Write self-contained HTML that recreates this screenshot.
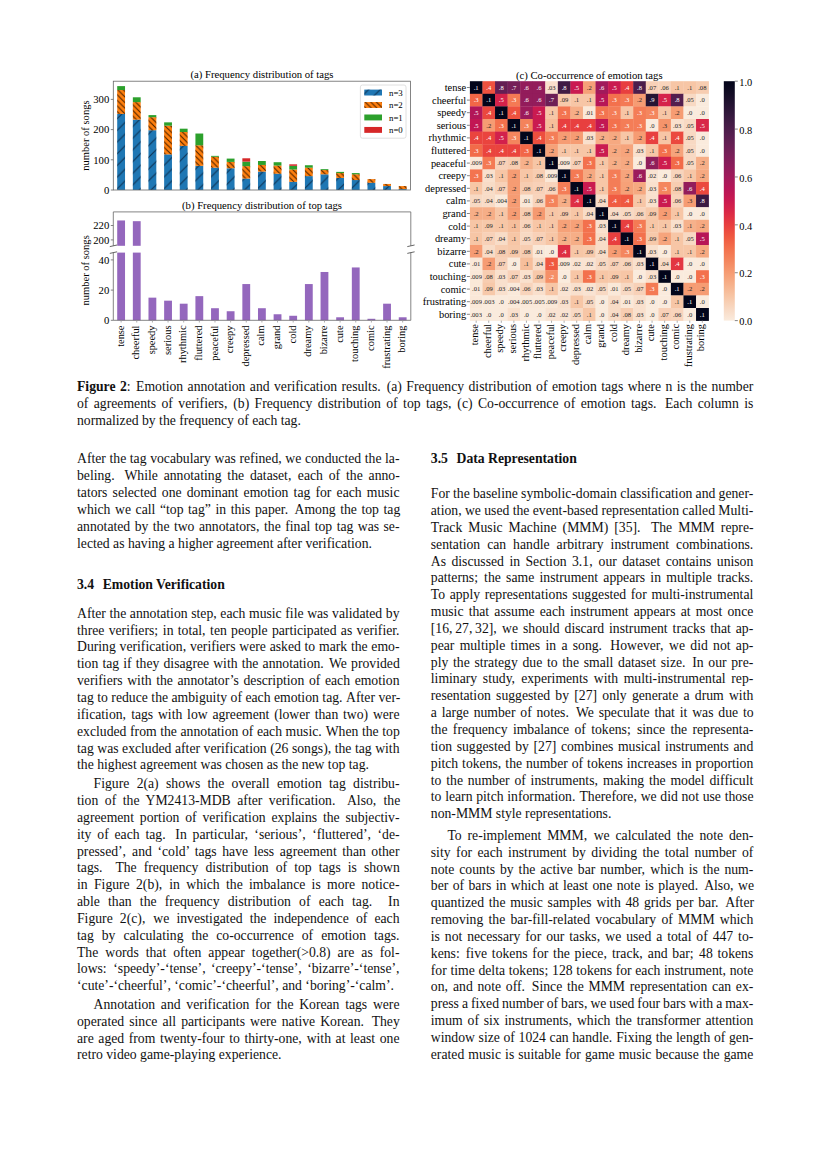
<!DOCTYPE html>
<html><head><meta charset="utf-8"><style>
html,body{margin:0;padding:0;background:#fff;}
body{width:827px;height:1169px;position:relative;overflow:hidden;font-family:"Liberation Serif",serif;color:#111;}
.l{position:absolute;white-space:nowrap;line-height:1;}
.j{text-align:justify;text-align-last:justify;white-space:normal;}
svg{position:absolute;left:0;top:0;}
svg text{font-family:"Liberation Serif",serif;}
</style></head><body>
<svg width="827" height="1169" viewBox="0 0 827 1169">
<defs><pattern id="hb" patternUnits="userSpaceOnUse" width="11.7" height="11.7" patternTransform="translate(1.8 0)"><path d="M-2,13.7 L13.7,-2 M-7.85,7.85 L7.85,-7.85 M3.8499999999999996,19.549999999999997 L19.549999999999997,3.8499999999999996" stroke="#0e3558" stroke-width="1.2"/></pattern><pattern id="ho" patternUnits="userSpaceOnUse" width="5.6" height="5.6"><path d="M-2,-2 L7.6,7.6 M-4.8,0.7999999999999998 L4.8,10.399999999999999 M0.7999999999999998,-4.8 L10.399999999999999,4.8" stroke="#4a2200" stroke-width="1.1"/></pattern></defs>
<rect x="117.21" y="113.90" width="7.82" height="76.10" fill="#1f77b4"/>
<rect x="117.21" y="113.90" width="7.82" height="76.10" fill="url(#hb)"/>
<rect x="117.21" y="90.04" width="7.82" height="23.86" fill="#ff7f0e"/>
<rect x="117.21" y="90.04" width="7.82" height="23.86" fill="url(#ho)"/>
<rect x="117.21" y="86.11" width="7.82" height="3.93" fill="#2ca02c"/>
<rect x="132.85" y="119.63" width="7.82" height="70.37" fill="#1f77b4"/>
<rect x="132.85" y="119.63" width="7.82" height="70.37" fill="url(#hb)"/>
<rect x="132.85" y="102.12" width="7.82" height="17.52" fill="#ff7f0e"/>
<rect x="132.85" y="102.12" width="7.82" height="17.52" fill="url(#ho)"/>
<rect x="132.85" y="97.29" width="7.82" height="4.83" fill="#2ca02c"/>
<rect x="148.49" y="130.20" width="7.82" height="59.80" fill="#1f77b4"/>
<rect x="148.49" y="130.20" width="7.82" height="59.80" fill="url(#hb)"/>
<rect x="148.49" y="117.22" width="7.82" height="12.99" fill="#ff7f0e"/>
<rect x="148.49" y="117.22" width="7.82" height="12.99" fill="url(#ho)"/>
<rect x="148.49" y="115.10" width="7.82" height="2.11" fill="#2ca02c"/>
<rect x="164.14" y="154.36" width="7.82" height="35.64" fill="#1f77b4"/>
<rect x="164.14" y="154.36" width="7.82" height="35.64" fill="url(#hb)"/>
<rect x="164.14" y="125.67" width="7.82" height="28.69" fill="#ff7f0e"/>
<rect x="164.14" y="125.67" width="7.82" height="28.69" fill="url(#ho)"/>
<rect x="164.14" y="122.35" width="7.82" height="3.32" fill="#2ca02c"/>
<rect x="179.78" y="145.91" width="7.82" height="44.09" fill="#1f77b4"/>
<rect x="179.78" y="145.91" width="7.82" height="44.09" fill="url(#hb)"/>
<rect x="179.78" y="132.02" width="7.82" height="13.89" fill="#ff7f0e"/>
<rect x="179.78" y="132.02" width="7.82" height="13.89" fill="url(#ho)"/>
<rect x="179.78" y="128.69" width="7.82" height="3.32" fill="#2ca02c"/>
<rect x="195.42" y="165.84" width="7.82" height="24.16" fill="#1f77b4"/>
<rect x="195.42" y="165.84" width="7.82" height="24.16" fill="url(#hb)"/>
<rect x="195.42" y="145.30" width="7.82" height="20.54" fill="#ff7f0e"/>
<rect x="195.42" y="145.30" width="7.82" height="20.54" fill="url(#ho)"/>
<rect x="195.42" y="133.53" width="7.82" height="11.78" fill="#2ca02c"/>
<rect x="211.06" y="167.65" width="7.82" height="22.35" fill="#1f77b4"/>
<rect x="211.06" y="167.65" width="7.82" height="22.35" fill="url(#hb)"/>
<rect x="211.06" y="156.78" width="7.82" height="10.87" fill="#ff7f0e"/>
<rect x="211.06" y="156.78" width="7.82" height="10.87" fill="url(#ho)"/>
<rect x="211.06" y="155.87" width="7.82" height="0.91" fill="#2ca02c"/>
<rect x="226.71" y="168.26" width="7.82" height="21.74" fill="#1f77b4"/>
<rect x="226.71" y="168.26" width="7.82" height="21.74" fill="url(#hb)"/>
<rect x="226.71" y="161.91" width="7.82" height="6.34" fill="#ff7f0e"/>
<rect x="226.71" y="161.91" width="7.82" height="6.34" fill="url(#ho)"/>
<rect x="226.71" y="158.59" width="7.82" height="3.32" fill="#2ca02c"/>
<rect x="242.35" y="178.52" width="7.82" height="11.48" fill="#1f77b4"/>
<rect x="242.35" y="178.52" width="7.82" height="11.48" fill="url(#hb)"/>
<rect x="242.35" y="166.14" width="7.82" height="12.38" fill="#ff7f0e"/>
<rect x="242.35" y="166.14" width="7.82" height="12.38" fill="url(#ho)"/>
<rect x="242.35" y="161.61" width="7.82" height="4.53" fill="#2ca02c"/>
<rect x="242.35" y="158.29" width="7.82" height="3.32" fill="#d62728"/>
<rect x="257.99" y="171.58" width="7.82" height="18.42" fill="#1f77b4"/>
<rect x="257.99" y="171.58" width="7.82" height="18.42" fill="url(#hb)"/>
<rect x="257.99" y="164.93" width="7.82" height="6.64" fill="#ff7f0e"/>
<rect x="257.99" y="164.93" width="7.82" height="6.64" fill="url(#ho)"/>
<rect x="257.99" y="161.01" width="7.82" height="3.93" fill="#2ca02c"/>
<rect x="273.63" y="173.69" width="7.82" height="16.31" fill="#1f77b4"/>
<rect x="273.63" y="173.69" width="7.82" height="16.31" fill="url(#hb)"/>
<rect x="273.63" y="165.54" width="7.82" height="8.15" fill="#ff7f0e"/>
<rect x="273.63" y="165.54" width="7.82" height="8.15" fill="url(#ho)"/>
<rect x="273.63" y="162.22" width="7.82" height="3.32" fill="#2ca02c"/>
<rect x="289.27" y="181.85" width="7.82" height="8.15" fill="#1f77b4"/>
<rect x="289.27" y="181.85" width="7.82" height="8.15" fill="url(#hb)"/>
<rect x="289.27" y="169.46" width="7.82" height="12.38" fill="#ff7f0e"/>
<rect x="289.27" y="169.46" width="7.82" height="12.38" fill="url(#ho)"/>
<rect x="289.27" y="165.84" width="7.82" height="3.62" fill="#2ca02c"/>
<rect x="289.27" y="164.33" width="7.82" height="1.51" fill="#d62728"/>
<rect x="304.92" y="176.11" width="7.82" height="13.89" fill="#1f77b4"/>
<rect x="304.92" y="176.11" width="7.82" height="13.89" fill="url(#hb)"/>
<rect x="304.92" y="167.65" width="7.82" height="8.46" fill="#ff7f0e"/>
<rect x="304.92" y="167.65" width="7.82" height="8.46" fill="url(#ho)"/>
<rect x="304.92" y="165.24" width="7.82" height="2.42" fill="#2ca02c"/>
<rect x="320.56" y="174.30" width="7.82" height="15.70" fill="#1f77b4"/>
<rect x="320.56" y="174.30" width="7.82" height="15.70" fill="url(#hb)"/>
<rect x="320.56" y="170.07" width="7.82" height="4.23" fill="#ff7f0e"/>
<rect x="320.56" y="170.07" width="7.82" height="4.23" fill="url(#ho)"/>
<rect x="320.56" y="169.16" width="7.82" height="0.91" fill="#2ca02c"/>
<rect x="336.20" y="177.92" width="7.82" height="12.08" fill="#1f77b4"/>
<rect x="336.20" y="177.92" width="7.82" height="12.08" fill="url(#hb)"/>
<rect x="336.20" y="173.09" width="7.82" height="4.83" fill="#ff7f0e"/>
<rect x="336.20" y="173.09" width="7.82" height="4.83" fill="url(#ho)"/>
<rect x="336.20" y="171.88" width="7.82" height="1.21" fill="#2ca02c"/>
<rect x="351.84" y="180.03" width="7.82" height="9.97" fill="#1f77b4"/>
<rect x="351.84" y="180.03" width="7.82" height="9.97" fill="url(#hb)"/>
<rect x="351.84" y="174.30" width="7.82" height="5.74" fill="#ff7f0e"/>
<rect x="351.84" y="174.30" width="7.82" height="5.74" fill="url(#ho)"/>
<rect x="351.84" y="173.09" width="7.82" height="1.21" fill="#2ca02c"/>
<rect x="367.48" y="182.75" width="7.82" height="7.25" fill="#1f77b4"/>
<rect x="367.48" y="182.75" width="7.82" height="7.25" fill="url(#hb)"/>
<rect x="367.48" y="179.13" width="7.82" height="3.62" fill="#ff7f0e"/>
<rect x="367.48" y="179.13" width="7.82" height="3.62" fill="url(#ho)"/>
<rect x="383.13" y="186.07" width="7.82" height="3.93" fill="#1f77b4"/>
<rect x="383.13" y="186.07" width="7.82" height="3.93" fill="url(#hb)"/>
<rect x="383.13" y="183.96" width="7.82" height="2.11" fill="#ff7f0e"/>
<rect x="383.13" y="183.96" width="7.82" height="2.11" fill="url(#ho)"/>
<rect x="398.77" y="189.09" width="7.82" height="0.91" fill="#1f77b4"/>
<rect x="398.77" y="189.09" width="7.82" height="0.91" fill="url(#hb)"/>
<rect x="398.77" y="186.07" width="7.82" height="3.02" fill="#ff7f0e"/>
<rect x="398.77" y="186.07" width="7.82" height="3.02" fill="url(#ho)"/>
<rect x="113.3" y="81.2" width="297.20" height="108.80" fill="none" stroke="#666666" stroke-width="0.8"/>
<line x1="110.8" y1="190.00" x2="113.3" y2="190.00" stroke="#666666" stroke-width="0.8"/>
<text x="109.30" y="193.75" font-size="10.7" text-anchor="end" fill="#000">0</text>
<line x1="110.8" y1="159.80" x2="113.3" y2="159.80" stroke="#666666" stroke-width="0.8"/>
<text x="109.30" y="163.55" font-size="10.7" text-anchor="end" fill="#000">100</text>
<line x1="110.8" y1="129.60" x2="113.3" y2="129.60" stroke="#666666" stroke-width="0.8"/>
<text x="109.30" y="133.34" font-size="10.7" text-anchor="end" fill="#000">200</text>
<line x1="110.8" y1="99.40" x2="113.3" y2="99.40" stroke="#666666" stroke-width="0.8"/>
<text x="109.30" y="103.15" font-size="10.7" text-anchor="end" fill="#000">300</text>
<text x="262.00" y="78.30" font-size="10.7" text-anchor="middle" fill="#000">(a) Frequency distribution of tags</text>
<text x="89.50" y="135.60" font-size="10.55" text-anchor="middle" fill="#000" transform="rotate(-90 89.50 135.60)">number of songs</text>
<rect x="360.4" y="85.0" width="45.60" height="53.20" rx="2" fill="#fff" stroke="#d8d8d8" stroke-width="0.8"/>
<rect x="364.3" y="89.60" width="17.7" height="5.9" fill="#1f77b4"/>
<rect x="364.3" y="89.60" width="17.7" height="5.9" fill="url(#hb)"/>
<text x="389.00" y="95.90" font-size="8.8" text-anchor="start" fill="#000">n=3</text>
<rect x="364.3" y="102.05" width="17.7" height="5.9" fill="#ff7f0e"/>
<rect x="364.3" y="102.05" width="17.7" height="5.9" fill="url(#ho)"/>
<text x="389.00" y="108.35" font-size="8.8" text-anchor="start" fill="#000">n=2</text>
<rect x="364.3" y="114.50" width="17.7" height="5.9" fill="#2ca02c"/>
<text x="389.00" y="120.80" font-size="8.8" text-anchor="start" fill="#000">n=1</text>
<rect x="364.3" y="126.95" width="17.7" height="5.9" fill="#d62728"/>
<text x="389.00" y="133.25" font-size="8.8" text-anchor="start" fill="#000">n=0</text>
<rect x="117.21" y="252.60" width="7.82" height="67.70" fill="#9467bd"/>
<rect x="117.21" y="220.46" width="7.82" height="25.34" fill="#9467bd"/>
<rect x="132.85" y="252.60" width="7.82" height="67.70" fill="#9467bd"/>
<rect x="132.85" y="221.18" width="7.82" height="24.62" fill="#9467bd"/>
<rect x="148.49" y="297.65" width="7.82" height="22.65" fill="#9467bd"/>
<rect x="164.14" y="300.67" width="7.82" height="19.63" fill="#9467bd"/>
<rect x="179.78" y="303.69" width="7.82" height="16.61" fill="#9467bd"/>
<rect x="195.42" y="296.14" width="7.82" height="24.16" fill="#9467bd"/>
<rect x="211.06" y="308.22" width="7.82" height="12.08" fill="#9467bd"/>
<rect x="226.71" y="311.24" width="7.82" height="9.06" fill="#9467bd"/>
<rect x="242.35" y="284.06" width="7.82" height="36.24" fill="#9467bd"/>
<rect x="257.99" y="308.22" width="7.82" height="12.08" fill="#9467bd"/>
<rect x="273.63" y="314.26" width="7.82" height="6.04" fill="#9467bd"/>
<rect x="289.27" y="315.77" width="7.82" height="4.53" fill="#9467bd"/>
<rect x="304.92" y="284.06" width="7.82" height="36.24" fill="#9467bd"/>
<rect x="320.56" y="271.98" width="7.82" height="48.32" fill="#9467bd"/>
<rect x="336.20" y="317.28" width="7.82" height="3.02" fill="#9467bd"/>
<rect x="351.84" y="267.45" width="7.82" height="52.85" fill="#9467bd"/>
<rect x="367.48" y="318.79" width="7.82" height="1.51" fill="#9467bd"/>
<rect x="383.13" y="303.69" width="7.82" height="16.61" fill="#9467bd"/>
<rect x="398.77" y="317.28" width="7.82" height="3.02" fill="#9467bd"/>
<path d="M113.3,245.8 L113.3,211.9 L410.8,211.9 L410.8,245.8" fill="none" stroke="#666666" stroke-width="0.8"/>
<path d="M113.3,252.6 L113.3,320.3 L410.8,320.3 L410.8,252.6" fill="none" stroke="#666666" stroke-width="0.8"/>
<line x1="109.8" y1="246.60000000000002" x2="117.1" y2="245.0" stroke="#555" stroke-width="0.9"/>
<line x1="109.8" y1="253.4" x2="117.1" y2="251.79999999999998" stroke="#555" stroke-width="0.9"/>
<line x1="407.3" y1="246.60000000000002" x2="414.6" y2="245.0" stroke="#555" stroke-width="0.9"/>
<line x1="407.3" y1="253.4" x2="414.6" y2="251.79999999999998" stroke="#555" stroke-width="0.9"/>
<line x1="110.8" y1="225.50" x2="113.3" y2="225.50" stroke="#666666" stroke-width="0.8"/>
<text x="109.30" y="229.25" font-size="10.7" text-anchor="end" fill="#000">220</text>
<line x1="110.8" y1="239.90" x2="113.3" y2="239.90" stroke="#666666" stroke-width="0.8"/>
<text x="109.30" y="243.65" font-size="10.7" text-anchor="end" fill="#000">200</text>
<line x1="110.8" y1="320.30" x2="113.3" y2="320.30" stroke="#666666" stroke-width="0.8"/>
<text x="109.30" y="324.05" font-size="10.7" text-anchor="end" fill="#000">0</text>
<line x1="110.8" y1="290.10" x2="113.3" y2="290.10" stroke="#666666" stroke-width="0.8"/>
<text x="109.30" y="293.85" font-size="10.7" text-anchor="end" fill="#000">20</text>
<line x1="110.8" y1="259.90" x2="113.3" y2="259.90" stroke="#666666" stroke-width="0.8"/>
<text x="109.30" y="263.65" font-size="10.7" text-anchor="end" fill="#000">40</text>
<text x="262.00" y="208.50" font-size="10.7" text-anchor="middle" fill="#000">(b) Frequency distribution of top tags</text>
<text x="89.50" y="270.40" font-size="10.55" text-anchor="middle" fill="#000" transform="rotate(-90 89.50 270.40)">number of songs</text>
<line x1="121.12" y1="320.3" x2="121.12" y2="322.5" stroke="#999" stroke-width="0.8"/>
<text x="123.67" y="325.50" font-size="10.4" text-anchor="end" fill="#000" transform="rotate(-90 123.67 325.50)">tense</text>
<line x1="136.76" y1="320.3" x2="136.76" y2="322.5" stroke="#999" stroke-width="0.8"/>
<text x="139.31" y="325.50" font-size="10.4" text-anchor="end" fill="#000" transform="rotate(-90 139.31 325.50)">cheerful</text>
<line x1="152.41" y1="320.3" x2="152.41" y2="322.5" stroke="#999" stroke-width="0.8"/>
<text x="154.95" y="325.50" font-size="10.4" text-anchor="end" fill="#000" transform="rotate(-90 154.95 325.50)">speedy</text>
<line x1="168.05" y1="320.3" x2="168.05" y2="322.5" stroke="#999" stroke-width="0.8"/>
<text x="170.59" y="325.50" font-size="10.4" text-anchor="end" fill="#000" transform="rotate(-90 170.59 325.50)">serious</text>
<line x1="183.69" y1="320.3" x2="183.69" y2="322.5" stroke="#999" stroke-width="0.8"/>
<text x="186.23" y="325.50" font-size="10.4" text-anchor="end" fill="#000" transform="rotate(-90 186.23 325.50)">rhythmic</text>
<line x1="199.33" y1="320.3" x2="199.33" y2="322.5" stroke="#999" stroke-width="0.8"/>
<text x="201.88" y="325.50" font-size="10.4" text-anchor="end" fill="#000" transform="rotate(-90 201.88 325.50)">fluttered</text>
<line x1="214.97" y1="320.3" x2="214.97" y2="322.5" stroke="#999" stroke-width="0.8"/>
<text x="217.52" y="325.50" font-size="10.4" text-anchor="end" fill="#000" transform="rotate(-90 217.52 325.50)">peaceful</text>
<line x1="230.62" y1="320.3" x2="230.62" y2="322.5" stroke="#999" stroke-width="0.8"/>
<text x="233.16" y="325.50" font-size="10.4" text-anchor="end" fill="#000" transform="rotate(-90 233.16 325.50)">creepy</text>
<line x1="246.26" y1="320.3" x2="246.26" y2="322.5" stroke="#999" stroke-width="0.8"/>
<text x="248.80" y="325.50" font-size="10.4" text-anchor="end" fill="#000" transform="rotate(-90 248.80 325.50)">depressed</text>
<line x1="261.90" y1="320.3" x2="261.90" y2="322.5" stroke="#999" stroke-width="0.8"/>
<text x="264.44" y="325.50" font-size="10.4" text-anchor="end" fill="#000" transform="rotate(-90 264.44 325.50)">calm</text>
<line x1="277.54" y1="320.3" x2="277.54" y2="322.5" stroke="#999" stroke-width="0.8"/>
<text x="280.09" y="325.50" font-size="10.4" text-anchor="end" fill="#000" transform="rotate(-90 280.09 325.50)">grand</text>
<line x1="293.18" y1="320.3" x2="293.18" y2="322.5" stroke="#999" stroke-width="0.8"/>
<text x="295.73" y="325.50" font-size="10.4" text-anchor="end" fill="#000" transform="rotate(-90 295.73 325.50)">cold</text>
<line x1="308.83" y1="320.3" x2="308.83" y2="322.5" stroke="#999" stroke-width="0.8"/>
<text x="311.37" y="325.50" font-size="10.4" text-anchor="end" fill="#000" transform="rotate(-90 311.37 325.50)">dreamy</text>
<line x1="324.47" y1="320.3" x2="324.47" y2="322.5" stroke="#999" stroke-width="0.8"/>
<text x="327.01" y="325.50" font-size="10.4" text-anchor="end" fill="#000" transform="rotate(-90 327.01 325.50)">bizarre</text>
<line x1="340.11" y1="320.3" x2="340.11" y2="322.5" stroke="#999" stroke-width="0.8"/>
<text x="342.66" y="325.50" font-size="10.4" text-anchor="end" fill="#000" transform="rotate(-90 342.66 325.50)">cute</text>
<line x1="355.75" y1="320.3" x2="355.75" y2="322.5" stroke="#999" stroke-width="0.8"/>
<text x="358.30" y="325.50" font-size="10.4" text-anchor="end" fill="#000" transform="rotate(-90 358.30 325.50)">touching</text>
<line x1="371.39" y1="320.3" x2="371.39" y2="322.5" stroke="#999" stroke-width="0.8"/>
<text x="373.94" y="325.50" font-size="10.4" text-anchor="end" fill="#000" transform="rotate(-90 373.94 325.50)">comic</text>
<line x1="387.04" y1="320.3" x2="387.04" y2="322.5" stroke="#999" stroke-width="0.8"/>
<text x="389.58" y="325.50" font-size="10.4" text-anchor="end" fill="#000" transform="rotate(-90 389.58 325.50)">frustrating</text>
<line x1="402.68" y1="320.3" x2="402.68" y2="322.5" stroke="#999" stroke-width="0.8"/>
<text x="405.22" y="325.50" font-size="10.4" text-anchor="end" fill="#000" transform="rotate(-90 405.22 325.50)">boring</text>
<rect x="469.90" y="81.20" width="12.86" height="12.90" fill="#03051a"/>
<text x="476.18" y="89.80" font-size="6.6" text-anchor="middle" fill="#ffffff">.1</text>
<rect x="482.46" y="81.20" width="12.86" height="12.90" fill="#ee523f"/>
<text x="488.74" y="89.80" font-size="6.6" text-anchor="middle" fill="#ffffff">.4</text>
<rect x="495.03" y="81.20" width="12.86" height="12.90" fill="#641f54"/>
<text x="501.31" y="89.80" font-size="6.6" text-anchor="middle" fill="#ffffff">.8</text>
<rect x="507.59" y="81.20" width="12.86" height="12.90" fill="#751f58"/>
<text x="513.87" y="89.80" font-size="6.6" text-anchor="middle" fill="#ffffff">.7</text>
<rect x="520.15" y="81.20" width="12.86" height="12.90" fill="#931c5b"/>
<text x="526.43" y="89.80" font-size="6.6" text-anchor="middle" fill="#ffffff">.6</text>
<rect x="532.72" y="81.20" width="12.86" height="12.90" fill="#931c5b"/>
<text x="539.00" y="89.80" font-size="6.6" text-anchor="middle" fill="#ffffff">.6</text>
<rect x="545.28" y="81.20" width="12.86" height="12.90" fill="#f9e0cd"/>
<text x="551.56" y="89.80" font-size="6.6" text-anchor="middle" fill="#262626">.03</text>
<rect x="557.84" y="81.20" width="12.86" height="12.90" fill="#401b44"/>
<text x="564.12" y="89.80" font-size="6.6" text-anchor="middle" fill="#ffffff">.8</text>
<rect x="570.41" y="81.20" width="12.86" height="12.90" fill="#ca1a50"/>
<text x="576.69" y="89.80" font-size="6.6" text-anchor="middle" fill="#ffffff">.5</text>
<rect x="582.97" y="81.20" width="12.86" height="12.90" fill="#f6a178"/>
<text x="589.25" y="89.80" font-size="6.6" text-anchor="middle" fill="#262626">.2</text>
<rect x="595.53" y="81.20" width="12.86" height="12.90" fill="#a11a5b"/>
<text x="601.81" y="89.80" font-size="6.6" text-anchor="middle" fill="#ffffff">.6</text>
<rect x="608.09" y="81.20" width="12.86" height="12.90" fill="#ca1a50"/>
<text x="614.38" y="89.80" font-size="6.6" text-anchor="middle" fill="#ffffff">.5</text>
<rect x="620.66" y="81.20" width="12.86" height="12.90" fill="#e83f3f"/>
<text x="626.94" y="89.80" font-size="6.6" text-anchor="middle" fill="#ffffff">.4</text>
<rect x="633.22" y="81.20" width="12.86" height="12.90" fill="#4c1d4b"/>
<text x="639.50" y="89.80" font-size="6.6" text-anchor="middle" fill="#ffffff">.8</text>
<rect x="645.78" y="81.20" width="12.86" height="12.90" fill="#f8d1b8"/>
<text x="652.07" y="89.80" font-size="6.6" text-anchor="middle" fill="#262626">.07</text>
<rect x="658.35" y="81.20" width="12.86" height="12.90" fill="#f8d4bc"/>
<text x="664.63" y="89.80" font-size="6.6" text-anchor="middle" fill="#262626">.06</text>
<rect x="670.91" y="81.20" width="12.86" height="12.90" fill="#f7c6a6"/>
<text x="677.19" y="89.80" font-size="6.6" text-anchor="middle" fill="#262626">.1</text>
<rect x="683.47" y="81.20" width="12.86" height="12.90" fill="#f7c6a6"/>
<text x="689.76" y="89.80" font-size="6.6" text-anchor="middle" fill="#262626">.1</text>
<rect x="696.04" y="81.20" width="12.86" height="12.90" fill="#f7cdb1"/>
<text x="702.32" y="89.80" font-size="6.6" text-anchor="middle" fill="#262626">.08</text>
<rect x="469.90" y="93.80" width="12.86" height="12.90" fill="#f26747"/>
<text x="476.18" y="102.40" font-size="6.6" text-anchor="middle" fill="#ffffff">.3</text>
<rect x="482.46" y="93.80" width="12.86" height="12.90" fill="#03051a"/>
<text x="488.74" y="102.40" font-size="6.6" text-anchor="middle" fill="#ffffff">.1</text>
<rect x="495.03" y="93.80" width="12.86" height="12.90" fill="#d5224a"/>
<text x="501.31" y="102.40" font-size="6.6" text-anchor="middle" fill="#ffffff">.5</text>
<rect x="507.59" y="93.80" width="12.86" height="12.90" fill="#f47a54"/>
<text x="513.87" y="102.40" font-size="6.6" text-anchor="middle" fill="#ffffff">.3</text>
<rect x="520.15" y="93.80" width="12.86" height="12.90" fill="#931c5b"/>
<text x="526.43" y="102.40" font-size="6.6" text-anchor="middle" fill="#ffffff">.6</text>
<rect x="532.72" y="93.80" width="12.86" height="12.90" fill="#931c5b"/>
<text x="539.00" y="102.40" font-size="6.6" text-anchor="middle" fill="#ffffff">.6</text>
<rect x="545.28" y="93.80" width="12.86" height="12.90" fill="#6d1f56"/>
<text x="551.56" y="102.40" font-size="6.6" text-anchor="middle" fill="#ffffff">.7</text>
<rect x="557.84" y="93.80" width="12.86" height="12.90" fill="#f7c9aa"/>
<text x="564.12" y="102.40" font-size="6.6" text-anchor="middle" fill="#262626">.09</text>
<rect x="570.41" y="93.80" width="12.86" height="12.90" fill="#f7c6a6"/>
<text x="576.69" y="102.40" font-size="6.6" text-anchor="middle" fill="#262626">.1</text>
<rect x="582.97" y="93.80" width="12.86" height="12.90" fill="#f7c6a6"/>
<text x="589.25" y="102.40" font-size="6.6" text-anchor="middle" fill="#262626">.1</text>
<rect x="595.53" y="93.80" width="12.86" height="12.90" fill="#b71657"/>
<text x="601.81" y="102.40" font-size="6.6" text-anchor="middle" fill="#ffffff">.5</text>
<rect x="608.09" y="93.80" width="12.86" height="12.90" fill="#f3714d"/>
<text x="614.38" y="102.40" font-size="6.6" text-anchor="middle" fill="#ffffff">.3</text>
<rect x="620.66" y="93.80" width="12.86" height="12.90" fill="#f47a54"/>
<text x="626.94" y="102.40" font-size="6.6" text-anchor="middle" fill="#ffffff">.3</text>
<rect x="633.22" y="93.80" width="12.86" height="12.90" fill="#f69c73"/>
<text x="639.50" y="102.40" font-size="6.6" text-anchor="middle" fill="#262626">.2</text>
<rect x="645.78" y="93.80" width="12.86" height="12.90" fill="#251433"/>
<text x="652.07" y="102.40" font-size="6.6" text-anchor="middle" fill="#ffffff">.9</text>
<rect x="658.35" y="93.80" width="12.86" height="12.90" fill="#d5224a"/>
<text x="664.63" y="102.40" font-size="6.6" text-anchor="middle" fill="#ffffff">.5</text>
<rect x="670.91" y="93.80" width="12.86" height="12.90" fill="#541e4e"/>
<text x="677.19" y="102.40" font-size="6.6" text-anchor="middle" fill="#ffffff">.8</text>
<rect x="683.47" y="93.80" width="12.86" height="12.90" fill="#f8d9c3"/>
<text x="689.76" y="102.40" font-size="6.6" text-anchor="middle" fill="#262626">.05</text>
<rect x="696.04" y="93.80" width="12.86" height="12.90" fill="#faebdd"/>
<text x="702.32" y="102.40" font-size="6.6" text-anchor="middle" fill="#262626">.0</text>
<rect x="469.90" y="106.40" width="12.86" height="12.90" fill="#b21758"/>
<text x="476.18" y="115.00" font-size="6.6" text-anchor="middle" fill="#ffffff">.5</text>
<rect x="482.46" y="106.40" width="12.86" height="12.90" fill="#eb483e"/>
<text x="488.74" y="115.00" font-size="6.6" text-anchor="middle" fill="#ffffff">.4</text>
<rect x="495.03" y="106.40" width="12.86" height="12.90" fill="#03051a"/>
<text x="501.31" y="115.00" font-size="6.6" text-anchor="middle" fill="#ffffff">.1</text>
<rect x="507.59" y="106.40" width="12.86" height="12.90" fill="#ee523f"/>
<text x="513.87" y="115.00" font-size="6.6" text-anchor="middle" fill="#ffffff">.4</text>
<rect x="520.15" y="106.40" width="12.86" height="12.90" fill="#9c1b5b"/>
<text x="526.43" y="115.00" font-size="6.6" text-anchor="middle" fill="#ffffff">.6</text>
<rect x="532.72" y="106.40" width="12.86" height="12.90" fill="#ca1a50"/>
<text x="539.00" y="115.00" font-size="6.6" text-anchor="middle" fill="#ffffff">.5</text>
<rect x="545.28" y="106.40" width="12.86" height="12.90" fill="#f7c6a6"/>
<text x="551.56" y="115.00" font-size="6.6" text-anchor="middle" fill="#262626">.1</text>
<rect x="557.84" y="106.40" width="12.86" height="12.90" fill="#f37450"/>
<text x="564.12" y="115.00" font-size="6.6" text-anchor="middle" fill="#ffffff">.3</text>
<rect x="570.41" y="106.40" width="12.86" height="12.90" fill="#f6ae87"/>
<text x="576.69" y="115.00" font-size="6.6" text-anchor="middle" fill="#262626">.2</text>
<rect x="582.97" y="106.40" width="12.86" height="12.90" fill="#fae8d8"/>
<text x="589.25" y="115.00" font-size="6.6" text-anchor="middle" fill="#262626">.01</text>
<rect x="595.53" y="106.40" width="12.86" height="12.90" fill="#f37450"/>
<text x="601.81" y="115.00" font-size="6.6" text-anchor="middle" fill="#ffffff">.3</text>
<rect x="608.09" y="106.40" width="12.86" height="12.90" fill="#f47d57"/>
<text x="614.38" y="115.00" font-size="6.6" text-anchor="middle" fill="#ffffff">.3</text>
<rect x="620.66" y="106.40" width="12.86" height="12.90" fill="#f7c6a6"/>
<text x="626.94" y="115.00" font-size="6.6" text-anchor="middle" fill="#262626">.1</text>
<rect x="633.22" y="106.40" width="12.86" height="12.90" fill="#f47d57"/>
<text x="639.50" y="115.00" font-size="6.6" text-anchor="middle" fill="#ffffff">.3</text>
<rect x="645.78" y="106.40" width="12.86" height="12.90" fill="#f4865e"/>
<text x="652.07" y="115.00" font-size="6.6" text-anchor="middle" fill="#ffffff">.3</text>
<rect x="658.35" y="106.40" width="12.86" height="12.90" fill="#f7c6a6"/>
<text x="664.63" y="115.00" font-size="6.6" text-anchor="middle" fill="#262626">.1</text>
<rect x="670.91" y="106.40" width="12.86" height="12.90" fill="#f69c73"/>
<text x="677.19" y="115.00" font-size="6.6" text-anchor="middle" fill="#262626">.2</text>
<rect x="683.47" y="106.40" width="12.86" height="12.90" fill="#faebdd"/>
<text x="689.76" y="115.00" font-size="6.6" text-anchor="middle" fill="#262626">.0</text>
<rect x="696.04" y="106.40" width="12.86" height="12.90" fill="#faebdd"/>
<text x="702.32" y="115.00" font-size="6.6" text-anchor="middle" fill="#262626">.0</text>
<rect x="469.90" y="119.00" width="12.86" height="12.90" fill="#c21753"/>
<text x="476.18" y="127.60" font-size="6.6" text-anchor="middle" fill="#ffffff">.5</text>
<rect x="482.46" y="119.00" width="12.86" height="12.90" fill="#f69c73"/>
<text x="488.74" y="127.60" font-size="6.6" text-anchor="middle" fill="#262626">.2</text>
<rect x="495.03" y="119.00" width="12.86" height="12.90" fill="#f3714d"/>
<text x="501.31" y="127.60" font-size="6.6" text-anchor="middle" fill="#ffffff">.3</text>
<rect x="507.59" y="119.00" width="12.86" height="12.90" fill="#03051a"/>
<text x="513.87" y="127.60" font-size="6.6" text-anchor="middle" fill="#ffffff">.1</text>
<rect x="520.15" y="119.00" width="12.86" height="12.90" fill="#f4835b"/>
<text x="526.43" y="127.60" font-size="6.6" text-anchor="middle" fill="#ffffff">.3</text>
<rect x="532.72" y="119.00" width="12.86" height="12.90" fill="#ca1a50"/>
<text x="539.00" y="127.60" font-size="6.6" text-anchor="middle" fill="#ffffff">.5</text>
<rect x="545.28" y="119.00" width="12.86" height="12.90" fill="#f6be9b"/>
<text x="551.56" y="127.60" font-size="6.6" text-anchor="middle" fill="#262626">.1</text>
<rect x="557.84" y="119.00" width="12.86" height="12.90" fill="#e83f3f"/>
<text x="564.12" y="127.60" font-size="6.6" text-anchor="middle" fill="#ffffff">.4</text>
<rect x="570.41" y="119.00" width="12.86" height="12.90" fill="#e83f3f"/>
<text x="576.69" y="127.60" font-size="6.6" text-anchor="middle" fill="#ffffff">.4</text>
<rect x="582.97" y="119.00" width="12.86" height="12.90" fill="#e83f3f"/>
<text x="589.25" y="127.60" font-size="6.6" text-anchor="middle" fill="#ffffff">.4</text>
<rect x="595.53" y="119.00" width="12.86" height="12.90" fill="#c21753"/>
<text x="601.81" y="127.60" font-size="6.6" text-anchor="middle" fill="#ffffff">.5</text>
<rect x="608.09" y="119.00" width="12.86" height="12.90" fill="#f3714d"/>
<text x="614.38" y="127.60" font-size="6.6" text-anchor="middle" fill="#ffffff">.3</text>
<rect x="620.66" y="119.00" width="12.86" height="12.90" fill="#f47d57"/>
<text x="626.94" y="127.60" font-size="6.6" text-anchor="middle" fill="#ffffff">.3</text>
<rect x="633.22" y="119.00" width="12.86" height="12.90" fill="#f47d57"/>
<text x="639.50" y="127.60" font-size="6.6" text-anchor="middle" fill="#ffffff">.3</text>
<rect x="645.78" y="119.00" width="12.86" height="12.90" fill="#faebdd"/>
<text x="652.07" y="127.60" font-size="6.6" text-anchor="middle" fill="#262626">.0</text>
<rect x="658.35" y="119.00" width="12.86" height="12.90" fill="#f5946b"/>
<text x="664.63" y="127.60" font-size="6.6" text-anchor="middle" fill="#262626">.3</text>
<rect x="670.91" y="119.00" width="12.86" height="12.90" fill="#f9e0cd"/>
<text x="677.19" y="127.60" font-size="6.6" text-anchor="middle" fill="#262626">.03</text>
<rect x="683.47" y="119.00" width="12.86" height="12.90" fill="#f8d9c3"/>
<text x="689.76" y="127.60" font-size="6.6" text-anchor="middle" fill="#262626">.05</text>
<rect x="696.04" y="119.00" width="12.86" height="12.90" fill="#d82748"/>
<text x="702.32" y="127.60" font-size="6.6" text-anchor="middle" fill="#ffffff">.5</text>
<rect x="469.90" y="131.60" width="12.86" height="12.90" fill="#ea443e"/>
<text x="476.18" y="140.20" font-size="6.6" text-anchor="middle" fill="#ffffff">.4</text>
<rect x="482.46" y="131.60" width="12.86" height="12.90" fill="#ea443e"/>
<text x="488.74" y="140.20" font-size="6.6" text-anchor="middle" fill="#ffffff">.4</text>
<rect x="495.03" y="131.60" width="12.86" height="12.90" fill="#d2204c"/>
<text x="501.31" y="140.20" font-size="6.6" text-anchor="middle" fill="#ffffff">.5</text>
<rect x="507.59" y="131.60" width="12.86" height="12.90" fill="#f4865e"/>
<text x="513.87" y="140.20" font-size="6.6" text-anchor="middle" fill="#ffffff">.3</text>
<rect x="520.15" y="131.60" width="12.86" height="12.90" fill="#03051a"/>
<text x="526.43" y="140.20" font-size="6.6" text-anchor="middle" fill="#ffffff">.1</text>
<rect x="532.72" y="131.60" width="12.86" height="12.90" fill="#ed4e3e"/>
<text x="539.00" y="140.20" font-size="6.6" text-anchor="middle" fill="#ffffff">.4</text>
<rect x="545.28" y="131.60" width="12.86" height="12.90" fill="#f47d57"/>
<text x="551.56" y="140.20" font-size="6.6" text-anchor="middle" fill="#ffffff">.3</text>
<rect x="557.84" y="131.60" width="12.86" height="12.90" fill="#f69c73"/>
<text x="564.12" y="140.20" font-size="6.6" text-anchor="middle" fill="#262626">.2</text>
<rect x="570.41" y="131.60" width="12.86" height="12.90" fill="#f69c73"/>
<text x="576.69" y="140.20" font-size="6.6" text-anchor="middle" fill="#262626">.2</text>
<rect x="582.97" y="131.60" width="12.86" height="12.90" fill="#f9e0cd"/>
<text x="589.25" y="140.20" font-size="6.6" text-anchor="middle" fill="#262626">.03</text>
<rect x="595.53" y="131.60" width="12.86" height="12.90" fill="#f6ae87"/>
<text x="601.81" y="140.20" font-size="6.6" text-anchor="middle" fill="#262626">.2</text>
<rect x="608.09" y="131.60" width="12.86" height="12.90" fill="#f6a981"/>
<text x="614.38" y="140.20" font-size="6.6" text-anchor="middle" fill="#262626">.2</text>
<rect x="620.66" y="131.60" width="12.86" height="12.90" fill="#f7c6a6"/>
<text x="626.94" y="140.20" font-size="6.6" text-anchor="middle" fill="#262626">.1</text>
<rect x="633.22" y="131.60" width="12.86" height="12.90" fill="#f69c73"/>
<text x="639.50" y="140.20" font-size="6.6" text-anchor="middle" fill="#262626">.2</text>
<rect x="645.78" y="131.60" width="12.86" height="12.90" fill="#e83f3f"/>
<text x="652.07" y="140.20" font-size="6.6" text-anchor="middle" fill="#ffffff">.4</text>
<rect x="658.35" y="131.60" width="12.86" height="12.90" fill="#f7c6a6"/>
<text x="664.63" y="140.20" font-size="6.6" text-anchor="middle" fill="#262626">.1</text>
<rect x="670.91" y="131.60" width="12.86" height="12.90" fill="#eb483e"/>
<text x="677.19" y="140.20" font-size="6.6" text-anchor="middle" fill="#ffffff">.4</text>
<rect x="683.47" y="131.60" width="12.86" height="12.90" fill="#f8d9c3"/>
<text x="689.76" y="140.20" font-size="6.6" text-anchor="middle" fill="#262626">.05</text>
<rect x="696.04" y="131.60" width="12.86" height="12.90" fill="#faebdd"/>
<text x="702.32" y="140.20" font-size="6.6" text-anchor="middle" fill="#262626">.0</text>
<rect x="469.90" y="144.20" width="12.86" height="12.90" fill="#f26b49"/>
<text x="476.18" y="152.80" font-size="6.6" text-anchor="middle" fill="#ffffff">.3</text>
<rect x="482.46" y="144.20" width="12.86" height="12.90" fill="#ea443e"/>
<text x="488.74" y="152.80" font-size="6.6" text-anchor="middle" fill="#ffffff">.4</text>
<rect x="495.03" y="144.20" width="12.86" height="12.90" fill="#ea443e"/>
<text x="501.31" y="152.80" font-size="6.6" text-anchor="middle" fill="#ffffff">.4</text>
<rect x="507.59" y="144.20" width="12.86" height="12.90" fill="#ea443e"/>
<text x="513.87" y="152.80" font-size="6.6" text-anchor="middle" fill="#ffffff">.4</text>
<rect x="520.15" y="144.20" width="12.86" height="12.90" fill="#f26747"/>
<text x="526.43" y="152.80" font-size="6.6" text-anchor="middle" fill="#ffffff">.3</text>
<rect x="532.72" y="144.20" width="12.86" height="12.90" fill="#03051a"/>
<text x="539.00" y="152.80" font-size="6.6" text-anchor="middle" fill="#ffffff">.1</text>
<rect x="545.28" y="144.20" width="12.86" height="12.90" fill="#f6a178"/>
<text x="551.56" y="152.80" font-size="6.6" text-anchor="middle" fill="#262626">.2</text>
<rect x="557.84" y="144.20" width="12.86" height="12.90" fill="#f7c6a6"/>
<text x="564.12" y="152.80" font-size="6.6" text-anchor="middle" fill="#262626">.1</text>
<rect x="570.41" y="144.20" width="12.86" height="12.90" fill="#f7c6a6"/>
<text x="576.69" y="152.80" font-size="6.6" text-anchor="middle" fill="#262626">.1</text>
<rect x="582.97" y="144.20" width="12.86" height="12.90" fill="#f7c6a6"/>
<text x="589.25" y="152.80" font-size="6.6" text-anchor="middle" fill="#262626">.1</text>
<rect x="595.53" y="144.20" width="12.86" height="12.90" fill="#ca1a50"/>
<text x="601.81" y="152.80" font-size="6.6" text-anchor="middle" fill="#ffffff">.5</text>
<rect x="608.09" y="144.20" width="12.86" height="12.90" fill="#f6a981"/>
<text x="614.38" y="152.80" font-size="6.6" text-anchor="middle" fill="#262626">.2</text>
<rect x="620.66" y="144.20" width="12.86" height="12.90" fill="#f6a47c"/>
<text x="626.94" y="152.80" font-size="6.6" text-anchor="middle" fill="#262626">.2</text>
<rect x="633.22" y="144.20" width="12.86" height="12.90" fill="#f9e0cd"/>
<text x="639.50" y="152.80" font-size="6.6" text-anchor="middle" fill="#262626">.03</text>
<rect x="645.78" y="144.20" width="12.86" height="12.90" fill="#f7c6a6"/>
<text x="652.07" y="152.80" font-size="6.6" text-anchor="middle" fill="#262626">.1</text>
<rect x="658.35" y="144.20" width="12.86" height="12.90" fill="#f3714d"/>
<text x="664.63" y="152.80" font-size="6.6" text-anchor="middle" fill="#ffffff">.3</text>
<rect x="670.91" y="144.20" width="12.86" height="12.90" fill="#f6a47c"/>
<text x="677.19" y="152.80" font-size="6.6" text-anchor="middle" fill="#262626">.2</text>
<rect x="683.47" y="144.20" width="12.86" height="12.90" fill="#f8d9c3"/>
<text x="689.76" y="152.80" font-size="6.6" text-anchor="middle" fill="#262626">.05</text>
<rect x="696.04" y="144.20" width="12.86" height="12.90" fill="#faebdd"/>
<text x="702.32" y="152.80" font-size="6.6" text-anchor="middle" fill="#262626">.0</text>
<rect x="469.90" y="156.80" width="12.86" height="12.90" fill="#fae8d8"/>
<text x="476.18" y="165.40" font-size="6.6" text-anchor="middle" fill="#262626">.009</text>
<rect x="482.46" y="156.80" width="12.86" height="12.90" fill="#f47a54"/>
<text x="488.74" y="165.40" font-size="6.6" text-anchor="middle" fill="#ffffff">.3</text>
<rect x="495.03" y="156.80" width="12.86" height="12.90" fill="#f8d1b8"/>
<text x="501.31" y="165.40" font-size="6.6" text-anchor="middle" fill="#262626">.07</text>
<rect x="507.59" y="156.80" width="12.86" height="12.90" fill="#f7cdb1"/>
<text x="513.87" y="165.40" font-size="6.6" text-anchor="middle" fill="#262626">.08</text>
<rect x="520.15" y="156.80" width="12.86" height="12.90" fill="#f6b18b"/>
<text x="526.43" y="165.40" font-size="6.6" text-anchor="middle" fill="#262626">.2</text>
<rect x="532.72" y="156.80" width="12.86" height="12.90" fill="#f7c6a6"/>
<text x="539.00" y="165.40" font-size="6.6" text-anchor="middle" fill="#262626">.1</text>
<rect x="545.28" y="156.80" width="12.86" height="12.90" fill="#03051a"/>
<text x="551.56" y="165.40" font-size="6.6" text-anchor="middle" fill="#ffffff">.1</text>
<rect x="557.84" y="156.80" width="12.86" height="12.90" fill="#fae8d8"/>
<text x="564.12" y="165.40" font-size="6.6" text-anchor="middle" fill="#262626">.009</text>
<rect x="570.41" y="156.80" width="12.86" height="12.90" fill="#f8d1b8"/>
<text x="576.69" y="165.40" font-size="6.6" text-anchor="middle" fill="#262626">.07</text>
<rect x="582.97" y="156.80" width="12.86" height="12.90" fill="#f3714d"/>
<text x="589.25" y="165.40" font-size="6.6" text-anchor="middle" fill="#ffffff">.3</text>
<rect x="595.53" y="156.80" width="12.86" height="12.90" fill="#f7c6a6"/>
<text x="601.81" y="165.40" font-size="6.6" text-anchor="middle" fill="#262626">.1</text>
<rect x="608.09" y="156.80" width="12.86" height="12.90" fill="#f6ae87"/>
<text x="614.38" y="165.40" font-size="6.6" text-anchor="middle" fill="#262626">.2</text>
<rect x="620.66" y="156.80" width="12.86" height="12.90" fill="#f6a981"/>
<text x="626.94" y="165.40" font-size="6.6" text-anchor="middle" fill="#262626">.2</text>
<rect x="633.22" y="156.80" width="12.86" height="12.90" fill="#faebdd"/>
<text x="639.50" y="165.40" font-size="6.6" text-anchor="middle" fill="#262626">.0</text>
<rect x="645.78" y="156.80" width="12.86" height="12.90" fill="#901d5b"/>
<text x="652.07" y="165.40" font-size="6.6" text-anchor="middle" fill="#ffffff">.6</text>
<rect x="658.35" y="156.80" width="12.86" height="12.90" fill="#ce1d4e"/>
<text x="664.63" y="165.40" font-size="6.6" text-anchor="middle" fill="#ffffff">.5</text>
<rect x="670.91" y="156.80" width="12.86" height="12.90" fill="#f26b49"/>
<text x="677.19" y="165.40" font-size="6.6" text-anchor="middle" fill="#ffffff">.3</text>
<rect x="683.47" y="156.80" width="12.86" height="12.90" fill="#f8d9c3"/>
<text x="689.76" y="165.40" font-size="6.6" text-anchor="middle" fill="#262626">.05</text>
<rect x="696.04" y="156.80" width="12.86" height="12.90" fill="#f6ae87"/>
<text x="702.32" y="165.40" font-size="6.6" text-anchor="middle" fill="#262626">.2</text>
<rect x="469.90" y="169.40" width="12.86" height="12.90" fill="#f37450"/>
<text x="476.18" y="178.00" font-size="6.6" text-anchor="middle" fill="#ffffff">.3</text>
<rect x="482.46" y="169.40" width="12.86" height="12.90" fill="#f9e0cd"/>
<text x="488.74" y="178.00" font-size="6.6" text-anchor="middle" fill="#262626">.03</text>
<rect x="495.03" y="169.40" width="12.86" height="12.90" fill="#f7c6a6"/>
<text x="501.31" y="178.00" font-size="6.6" text-anchor="middle" fill="#262626">.1</text>
<rect x="507.59" y="169.40" width="12.86" height="12.90" fill="#f69c73"/>
<text x="513.87" y="178.00" font-size="6.6" text-anchor="middle" fill="#262626">.2</text>
<rect x="520.15" y="169.40" width="12.86" height="12.90" fill="#f7c6a6"/>
<text x="526.43" y="178.00" font-size="6.6" text-anchor="middle" fill="#262626">.1</text>
<rect x="532.72" y="169.40" width="12.86" height="12.90" fill="#f7cdb1"/>
<text x="539.00" y="178.00" font-size="6.6" text-anchor="middle" fill="#262626">.08</text>
<rect x="545.28" y="169.40" width="12.86" height="12.90" fill="#fae8d8"/>
<text x="551.56" y="178.00" font-size="6.6" text-anchor="middle" fill="#262626">.009</text>
<rect x="557.84" y="169.40" width="12.86" height="12.90" fill="#03051a"/>
<text x="564.12" y="178.00" font-size="6.6" text-anchor="middle" fill="#ffffff">.1</text>
<rect x="570.41" y="169.40" width="12.86" height="12.90" fill="#f47a54"/>
<text x="576.69" y="178.00" font-size="6.6" text-anchor="middle" fill="#ffffff">.3</text>
<rect x="582.97" y="169.40" width="12.86" height="12.90" fill="#f6a981"/>
<text x="589.25" y="178.00" font-size="6.6" text-anchor="middle" fill="#262626">.2</text>
<rect x="595.53" y="169.40" width="12.86" height="12.90" fill="#f7c6a6"/>
<text x="601.81" y="178.00" font-size="6.6" text-anchor="middle" fill="#262626">.1</text>
<rect x="608.09" y="169.40" width="12.86" height="12.90" fill="#f47d57"/>
<text x="614.38" y="178.00" font-size="6.6" text-anchor="middle" fill="#ffffff">.3</text>
<rect x="620.66" y="169.40" width="12.86" height="12.90" fill="#f6a47c"/>
<text x="626.94" y="178.00" font-size="6.6" text-anchor="middle" fill="#262626">.2</text>
<rect x="633.22" y="169.40" width="12.86" height="12.90" fill="#9c1b5b"/>
<text x="639.50" y="178.00" font-size="6.6" text-anchor="middle" fill="#ffffff">.6</text>
<rect x="645.78" y="169.40" width="12.86" height="12.90" fill="#f9e3d2"/>
<text x="652.07" y="178.00" font-size="6.6" text-anchor="middle" fill="#262626">.02</text>
<rect x="658.35" y="169.40" width="12.86" height="12.90" fill="#faebdd"/>
<text x="664.63" y="178.00" font-size="6.6" text-anchor="middle" fill="#262626">.0</text>
<rect x="670.91" y="169.40" width="12.86" height="12.90" fill="#f8d4bc"/>
<text x="677.19" y="178.00" font-size="6.6" text-anchor="middle" fill="#262626">.06</text>
<rect x="683.47" y="169.40" width="12.86" height="12.90" fill="#f7c6a6"/>
<text x="689.76" y="178.00" font-size="6.6" text-anchor="middle" fill="#262626">.1</text>
<rect x="696.04" y="169.40" width="12.86" height="12.90" fill="#f6a981"/>
<text x="702.32" y="178.00" font-size="6.6" text-anchor="middle" fill="#262626">.2</text>
<rect x="469.90" y="182.00" width="12.86" height="12.90" fill="#f7c6a6"/>
<text x="476.18" y="190.60" font-size="6.6" text-anchor="middle" fill="#262626">.1</text>
<rect x="482.46" y="182.00" width="12.86" height="12.90" fill="#f8dcc7"/>
<text x="488.74" y="190.60" font-size="6.6" text-anchor="middle" fill="#262626">.04</text>
<rect x="495.03" y="182.00" width="12.86" height="12.90" fill="#f8d1b8"/>
<text x="501.31" y="190.60" font-size="6.6" text-anchor="middle" fill="#262626">.07</text>
<rect x="507.59" y="182.00" width="12.86" height="12.90" fill="#f69c73"/>
<text x="513.87" y="190.60" font-size="6.6" text-anchor="middle" fill="#262626">.2</text>
<rect x="520.15" y="182.00" width="12.86" height="12.90" fill="#f7cdb1"/>
<text x="526.43" y="190.60" font-size="6.6" text-anchor="middle" fill="#262626">.08</text>
<rect x="532.72" y="182.00" width="12.86" height="12.90" fill="#f8d1b8"/>
<text x="539.00" y="190.60" font-size="6.6" text-anchor="middle" fill="#262626">.07</text>
<rect x="545.28" y="182.00" width="12.86" height="12.90" fill="#f8d4bc"/>
<text x="551.56" y="190.60" font-size="6.6" text-anchor="middle" fill="#262626">.06</text>
<rect x="557.84" y="182.00" width="12.86" height="12.90" fill="#f47d57"/>
<text x="564.12" y="190.60" font-size="6.6" text-anchor="middle" fill="#ffffff">.3</text>
<rect x="570.41" y="182.00" width="12.86" height="12.90" fill="#03051a"/>
<text x="576.69" y="190.60" font-size="6.6" text-anchor="middle" fill="#ffffff">.1</text>
<rect x="582.97" y="182.00" width="12.86" height="12.90" fill="#ca1a50"/>
<text x="589.25" y="190.60" font-size="6.6" text-anchor="middle" fill="#ffffff">.5</text>
<rect x="595.53" y="182.00" width="12.86" height="12.90" fill="#f7c6a6"/>
<text x="601.81" y="190.60" font-size="6.6" text-anchor="middle" fill="#262626">.1</text>
<rect x="608.09" y="182.00" width="12.86" height="12.90" fill="#f47d57"/>
<text x="614.38" y="190.60" font-size="6.6" text-anchor="middle" fill="#ffffff">.3</text>
<rect x="620.66" y="182.00" width="12.86" height="12.90" fill="#f6a178"/>
<text x="626.94" y="190.60" font-size="6.6" text-anchor="middle" fill="#262626">.2</text>
<rect x="633.22" y="182.00" width="12.86" height="12.90" fill="#f6a981"/>
<text x="639.50" y="190.60" font-size="6.6" text-anchor="middle" fill="#262626">.2</text>
<rect x="645.78" y="182.00" width="12.86" height="12.90" fill="#f9e0cd"/>
<text x="652.07" y="190.60" font-size="6.6" text-anchor="middle" fill="#262626">.03</text>
<rect x="658.35" y="182.00" width="12.86" height="12.90" fill="#f4865e"/>
<text x="664.63" y="190.60" font-size="6.6" text-anchor="middle" fill="#ffffff">.3</text>
<rect x="670.91" y="182.00" width="12.86" height="12.90" fill="#f7cdb1"/>
<text x="677.19" y="190.60" font-size="6.6" text-anchor="middle" fill="#262626">.08</text>
<rect x="683.47" y="182.00" width="12.86" height="12.90" fill="#931c5b"/>
<text x="689.76" y="190.60" font-size="6.6" text-anchor="middle" fill="#ffffff">.6</text>
<rect x="696.04" y="182.00" width="12.86" height="12.90" fill="#eb483e"/>
<text x="702.32" y="190.60" font-size="6.6" text-anchor="middle" fill="#ffffff">.4</text>
<rect x="469.90" y="194.60" width="12.86" height="12.90" fill="#f8d9c3"/>
<text x="476.18" y="203.20" font-size="6.6" text-anchor="middle" fill="#262626">.05</text>
<rect x="482.46" y="194.60" width="12.86" height="12.90" fill="#f8dcc7"/>
<text x="488.74" y="203.20" font-size="6.6" text-anchor="middle" fill="#262626">.04</text>
<rect x="495.03" y="194.60" width="12.86" height="12.90" fill="#fae9da"/>
<text x="501.31" y="203.20" font-size="6.6" text-anchor="middle" fill="#262626">.004</text>
<rect x="507.59" y="194.60" width="12.86" height="12.90" fill="#f69c73"/>
<text x="513.87" y="203.20" font-size="6.6" text-anchor="middle" fill="#262626">.2</text>
<rect x="520.15" y="194.60" width="12.86" height="12.90" fill="#fae8d8"/>
<text x="526.43" y="203.20" font-size="6.6" text-anchor="middle" fill="#262626">.01</text>
<rect x="532.72" y="194.60" width="12.86" height="12.90" fill="#f8d4bc"/>
<text x="539.00" y="203.20" font-size="6.6" text-anchor="middle" fill="#262626">.06</text>
<rect x="545.28" y="194.60" width="12.86" height="12.90" fill="#f4835b"/>
<text x="551.56" y="203.20" font-size="6.6" text-anchor="middle" fill="#ffffff">.3</text>
<rect x="557.84" y="194.60" width="12.86" height="12.90" fill="#f6ae87"/>
<text x="564.12" y="203.20" font-size="6.6" text-anchor="middle" fill="#262626">.2</text>
<rect x="570.41" y="194.60" width="12.86" height="12.90" fill="#de2e44"/>
<text x="576.69" y="203.20" font-size="6.6" text-anchor="middle" fill="#ffffff">.4</text>
<rect x="582.97" y="194.60" width="12.86" height="12.90" fill="#03051a"/>
<text x="589.25" y="203.20" font-size="6.6" text-anchor="middle" fill="#ffffff">.1</text>
<rect x="595.53" y="194.60" width="12.86" height="12.90" fill="#f8dcc7"/>
<text x="601.81" y="203.20" font-size="6.6" text-anchor="middle" fill="#262626">.04</text>
<rect x="608.09" y="194.60" width="12.86" height="12.90" fill="#f05c42"/>
<text x="614.38" y="203.20" font-size="6.6" text-anchor="middle" fill="#ffffff">.4</text>
<rect x="620.66" y="194.60" width="12.86" height="12.90" fill="#ef5840"/>
<text x="626.94" y="203.20" font-size="6.6" text-anchor="middle" fill="#ffffff">.4</text>
<rect x="633.22" y="194.60" width="12.86" height="12.90" fill="#f7c6a6"/>
<text x="639.50" y="203.20" font-size="6.6" text-anchor="middle" fill="#262626">.1</text>
<rect x="645.78" y="194.60" width="12.86" height="12.90" fill="#f9e0cd"/>
<text x="652.07" y="203.20" font-size="6.6" text-anchor="middle" fill="#262626">.03</text>
<rect x="658.35" y="194.60" width="12.86" height="12.90" fill="#ca1a50"/>
<text x="664.63" y="203.20" font-size="6.6" text-anchor="middle" fill="#ffffff">.5</text>
<rect x="670.91" y="194.60" width="12.86" height="12.90" fill="#f8d4bc"/>
<text x="677.19" y="203.20" font-size="6.6" text-anchor="middle" fill="#262626">.06</text>
<rect x="683.47" y="194.60" width="12.86" height="12.90" fill="#f69c73"/>
<text x="689.76" y="203.20" font-size="6.6" text-anchor="middle" fill="#262626">.3</text>
<rect x="696.04" y="194.60" width="12.86" height="12.90" fill="#3c1a42"/>
<text x="702.32" y="203.20" font-size="6.6" text-anchor="middle" fill="#ffffff">.8</text>
<rect x="469.90" y="207.20" width="12.86" height="12.90" fill="#f6ae87"/>
<text x="476.18" y="215.80" font-size="6.6" text-anchor="middle" fill="#262626">.2</text>
<rect x="482.46" y="207.20" width="12.86" height="12.90" fill="#f6ae87"/>
<text x="488.74" y="215.80" font-size="6.6" text-anchor="middle" fill="#262626">.2</text>
<rect x="495.03" y="207.20" width="12.86" height="12.90" fill="#f7c6a6"/>
<text x="501.31" y="215.80" font-size="6.6" text-anchor="middle" fill="#262626">.1</text>
<rect x="507.59" y="207.20" width="12.86" height="12.90" fill="#f69c73"/>
<text x="513.87" y="215.80" font-size="6.6" text-anchor="middle" fill="#262626">.2</text>
<rect x="520.15" y="207.20" width="12.86" height="12.90" fill="#f7cdb1"/>
<text x="526.43" y="215.80" font-size="6.6" text-anchor="middle" fill="#262626">.08</text>
<rect x="532.72" y="207.20" width="12.86" height="12.90" fill="#f59970"/>
<text x="539.00" y="215.80" font-size="6.6" text-anchor="middle" fill="#262626">.2</text>
<rect x="545.28" y="207.20" width="12.86" height="12.90" fill="#f7c6a6"/>
<text x="551.56" y="215.80" font-size="6.6" text-anchor="middle" fill="#262626">.1</text>
<rect x="557.84" y="207.20" width="12.86" height="12.90" fill="#f7c9aa"/>
<text x="564.12" y="215.80" font-size="6.6" text-anchor="middle" fill="#262626">.09</text>
<rect x="570.41" y="207.20" width="12.86" height="12.90" fill="#f7c6a6"/>
<text x="576.69" y="215.80" font-size="6.6" text-anchor="middle" fill="#262626">.1</text>
<rect x="582.97" y="207.20" width="12.86" height="12.90" fill="#f8dcc7"/>
<text x="589.25" y="215.80" font-size="6.6" text-anchor="middle" fill="#262626">.04</text>
<rect x="595.53" y="207.20" width="12.86" height="12.90" fill="#03051a"/>
<text x="601.81" y="215.80" font-size="6.6" text-anchor="middle" fill="#ffffff">.1</text>
<rect x="608.09" y="207.20" width="12.86" height="12.90" fill="#f8dcc7"/>
<text x="614.38" y="215.80" font-size="6.6" text-anchor="middle" fill="#262626">.04</text>
<rect x="620.66" y="207.20" width="12.86" height="12.90" fill="#f8d9c3"/>
<text x="626.94" y="215.80" font-size="6.6" text-anchor="middle" fill="#262626">.05</text>
<rect x="633.22" y="207.20" width="12.86" height="12.90" fill="#f8d4bc"/>
<text x="639.50" y="215.80" font-size="6.6" text-anchor="middle" fill="#262626">.06</text>
<rect x="645.78" y="207.20" width="12.86" height="12.90" fill="#f7c9aa"/>
<text x="652.07" y="215.80" font-size="6.6" text-anchor="middle" fill="#262626">.09</text>
<rect x="658.35" y="207.20" width="12.86" height="12.90" fill="#f69c73"/>
<text x="664.63" y="215.80" font-size="6.6" text-anchor="middle" fill="#262626">.2</text>
<rect x="670.91" y="207.20" width="12.86" height="12.90" fill="#f7c6a6"/>
<text x="677.19" y="215.80" font-size="6.6" text-anchor="middle" fill="#262626">.1</text>
<rect x="683.47" y="207.20" width="12.86" height="12.90" fill="#faebdd"/>
<text x="689.76" y="215.80" font-size="6.6" text-anchor="middle" fill="#262626">.0</text>
<rect x="696.04" y="207.20" width="12.86" height="12.90" fill="#faebdd"/>
<text x="702.32" y="215.80" font-size="6.6" text-anchor="middle" fill="#262626">.0</text>
<rect x="469.90" y="219.80" width="12.86" height="12.90" fill="#f7c6a6"/>
<text x="476.18" y="228.40" font-size="6.6" text-anchor="middle" fill="#262626">.1</text>
<rect x="482.46" y="219.80" width="12.86" height="12.90" fill="#f7c9aa"/>
<text x="488.74" y="228.40" font-size="6.6" text-anchor="middle" fill="#262626">.09</text>
<rect x="495.03" y="219.80" width="12.86" height="12.90" fill="#f7c6a6"/>
<text x="501.31" y="228.40" font-size="6.6" text-anchor="middle" fill="#262626">.1</text>
<rect x="507.59" y="219.80" width="12.86" height="12.90" fill="#f6be9b"/>
<text x="513.87" y="228.40" font-size="6.6" text-anchor="middle" fill="#262626">.1</text>
<rect x="520.15" y="219.80" width="12.86" height="12.90" fill="#f8d4bc"/>
<text x="526.43" y="228.40" font-size="6.6" text-anchor="middle" fill="#262626">.06</text>
<rect x="532.72" y="219.80" width="12.86" height="12.90" fill="#f7c6a6"/>
<text x="539.00" y="228.40" font-size="6.6" text-anchor="middle" fill="#262626">.1</text>
<rect x="545.28" y="219.80" width="12.86" height="12.90" fill="#f7c6a6"/>
<text x="551.56" y="228.40" font-size="6.6" text-anchor="middle" fill="#262626">.1</text>
<rect x="557.84" y="219.80" width="12.86" height="12.90" fill="#f6a178"/>
<text x="564.12" y="228.40" font-size="6.6" text-anchor="middle" fill="#262626">.2</text>
<rect x="570.41" y="219.80" width="12.86" height="12.90" fill="#f6a178"/>
<text x="576.69" y="228.40" font-size="6.6" text-anchor="middle" fill="#262626">.2</text>
<rect x="582.97" y="219.80" width="12.86" height="12.90" fill="#f3714d"/>
<text x="589.25" y="228.40" font-size="6.6" text-anchor="middle" fill="#ffffff">.3</text>
<rect x="595.53" y="219.80" width="12.86" height="12.90" fill="#f9e0cd"/>
<text x="601.81" y="228.40" font-size="6.6" text-anchor="middle" fill="#262626">.03</text>
<rect x="608.09" y="219.80" width="12.86" height="12.90" fill="#03051a"/>
<text x="614.38" y="228.40" font-size="6.6" text-anchor="middle" fill="#ffffff">.1</text>
<rect x="620.66" y="219.80" width="12.86" height="12.90" fill="#e83f3f"/>
<text x="626.94" y="228.40" font-size="6.6" text-anchor="middle" fill="#ffffff">.4</text>
<rect x="633.22" y="219.80" width="12.86" height="12.90" fill="#f47a54"/>
<text x="639.50" y="228.40" font-size="6.6" text-anchor="middle" fill="#ffffff">.3</text>
<rect x="645.78" y="219.80" width="12.86" height="12.90" fill="#f7c6a6"/>
<text x="652.07" y="228.40" font-size="6.6" text-anchor="middle" fill="#262626">.1</text>
<rect x="658.35" y="219.80" width="12.86" height="12.90" fill="#f7c6a6"/>
<text x="664.63" y="228.40" font-size="6.6" text-anchor="middle" fill="#262626">.1</text>
<rect x="670.91" y="219.80" width="12.86" height="12.90" fill="#f9e0cd"/>
<text x="677.19" y="228.40" font-size="6.6" text-anchor="middle" fill="#262626">.03</text>
<rect x="683.47" y="219.80" width="12.86" height="12.90" fill="#f6b18b"/>
<text x="689.76" y="228.40" font-size="6.6" text-anchor="middle" fill="#262626">.1</text>
<rect x="696.04" y="219.80" width="12.86" height="12.90" fill="#f6a981"/>
<text x="702.32" y="228.40" font-size="6.6" text-anchor="middle" fill="#262626">.2</text>
<rect x="469.90" y="232.40" width="12.86" height="12.90" fill="#f7c6a6"/>
<text x="476.18" y="241.00" font-size="6.6" text-anchor="middle" fill="#262626">.1</text>
<rect x="482.46" y="232.40" width="12.86" height="12.90" fill="#f8d1b8"/>
<text x="488.74" y="241.00" font-size="6.6" text-anchor="middle" fill="#262626">.07</text>
<rect x="495.03" y="232.40" width="12.86" height="12.90" fill="#f8dcc7"/>
<text x="501.31" y="241.00" font-size="6.6" text-anchor="middle" fill="#262626">.04</text>
<rect x="507.59" y="232.40" width="12.86" height="12.90" fill="#f7c6a6"/>
<text x="513.87" y="241.00" font-size="6.6" text-anchor="middle" fill="#262626">.1</text>
<rect x="520.15" y="232.40" width="12.86" height="12.90" fill="#f8d9c3"/>
<text x="526.43" y="241.00" font-size="6.6" text-anchor="middle" fill="#262626">.05</text>
<rect x="532.72" y="232.40" width="12.86" height="12.90" fill="#f8d1b8"/>
<text x="539.00" y="241.00" font-size="6.6" text-anchor="middle" fill="#262626">.07</text>
<rect x="545.28" y="232.40" width="12.86" height="12.90" fill="#f7c6a6"/>
<text x="551.56" y="241.00" font-size="6.6" text-anchor="middle" fill="#262626">.1</text>
<rect x="557.84" y="232.40" width="12.86" height="12.90" fill="#f6ae87"/>
<text x="564.12" y="241.00" font-size="6.6" text-anchor="middle" fill="#262626">.2</text>
<rect x="570.41" y="232.40" width="12.86" height="12.90" fill="#f6ae87"/>
<text x="576.69" y="241.00" font-size="6.6" text-anchor="middle" fill="#262626">.2</text>
<rect x="582.97" y="232.40" width="12.86" height="12.90" fill="#f3714d"/>
<text x="589.25" y="241.00" font-size="6.6" text-anchor="middle" fill="#ffffff">.3</text>
<rect x="595.53" y="232.40" width="12.86" height="12.90" fill="#f8dcc7"/>
<text x="601.81" y="241.00" font-size="6.6" text-anchor="middle" fill="#262626">.04</text>
<rect x="608.09" y="232.40" width="12.86" height="12.90" fill="#e83f3f"/>
<text x="614.38" y="241.00" font-size="6.6" text-anchor="middle" fill="#ffffff">.4</text>
<rect x="620.66" y="232.40" width="12.86" height="12.90" fill="#03051a"/>
<text x="626.94" y="241.00" font-size="6.6" text-anchor="middle" fill="#ffffff">.1</text>
<rect x="633.22" y="232.40" width="12.86" height="12.90" fill="#f3714d"/>
<text x="639.50" y="241.00" font-size="6.6" text-anchor="middle" fill="#ffffff">.3</text>
<rect x="645.78" y="232.40" width="12.86" height="12.90" fill="#f7c9aa"/>
<text x="652.07" y="241.00" font-size="6.6" text-anchor="middle" fill="#262626">.09</text>
<rect x="658.35" y="232.40" width="12.86" height="12.90" fill="#f6a47c"/>
<text x="664.63" y="241.00" font-size="6.6" text-anchor="middle" fill="#262626">.2</text>
<rect x="670.91" y="232.40" width="12.86" height="12.90" fill="#f7c6a6"/>
<text x="677.19" y="241.00" font-size="6.6" text-anchor="middle" fill="#262626">.1</text>
<rect x="683.47" y="232.40" width="12.86" height="12.90" fill="#f8d9c3"/>
<text x="689.76" y="241.00" font-size="6.6" text-anchor="middle" fill="#262626">.05</text>
<rect x="696.04" y="232.40" width="12.86" height="12.90" fill="#b71657"/>
<text x="702.32" y="241.00" font-size="6.6" text-anchor="middle" fill="#ffffff">.5</text>
<rect x="469.90" y="245.00" width="12.86" height="12.90" fill="#f69c73"/>
<text x="476.18" y="253.60" font-size="6.6" text-anchor="middle" fill="#262626">.2</text>
<rect x="482.46" y="245.00" width="12.86" height="12.90" fill="#f8dcc7"/>
<text x="488.74" y="253.60" font-size="6.6" text-anchor="middle" fill="#262626">.04</text>
<rect x="495.03" y="245.00" width="12.86" height="12.90" fill="#f7cdb1"/>
<text x="501.31" y="253.60" font-size="6.6" text-anchor="middle" fill="#262626">.08</text>
<rect x="507.59" y="245.00" width="12.86" height="12.90" fill="#f7c9aa"/>
<text x="513.87" y="253.60" font-size="6.6" text-anchor="middle" fill="#262626">.09</text>
<rect x="520.15" y="245.00" width="12.86" height="12.90" fill="#f7cdb1"/>
<text x="526.43" y="253.60" font-size="6.6" text-anchor="middle" fill="#262626">.08</text>
<rect x="532.72" y="245.00" width="12.86" height="12.90" fill="#fae8d8"/>
<text x="539.00" y="253.60" font-size="6.6" text-anchor="middle" fill="#262626">.01</text>
<rect x="545.28" y="245.00" width="12.86" height="12.90" fill="#faebdd"/>
<text x="551.56" y="253.60" font-size="6.6" text-anchor="middle" fill="#262626">.0</text>
<rect x="557.84" y="245.00" width="12.86" height="12.90" fill="#de2e44"/>
<text x="564.12" y="253.60" font-size="6.6" text-anchor="middle" fill="#ffffff">.4</text>
<rect x="570.41" y="245.00" width="12.86" height="12.90" fill="#f7c6a6"/>
<text x="576.69" y="253.60" font-size="6.6" text-anchor="middle" fill="#262626">.1</text>
<rect x="582.97" y="245.00" width="12.86" height="12.90" fill="#f7c9aa"/>
<text x="589.25" y="253.60" font-size="6.6" text-anchor="middle" fill="#262626">.09</text>
<rect x="595.53" y="245.00" width="12.86" height="12.90" fill="#f8dcc7"/>
<text x="601.81" y="253.60" font-size="6.6" text-anchor="middle" fill="#262626">.04</text>
<rect x="608.09" y="245.00" width="12.86" height="12.90" fill="#f69c73"/>
<text x="614.38" y="253.60" font-size="6.6" text-anchor="middle" fill="#262626">.2</text>
<rect x="620.66" y="245.00" width="12.86" height="12.90" fill="#f4865e"/>
<text x="626.94" y="253.60" font-size="6.6" text-anchor="middle" fill="#ffffff">.3</text>
<rect x="633.22" y="245.00" width="12.86" height="12.90" fill="#03051a"/>
<text x="639.50" y="253.60" font-size="6.6" text-anchor="middle" fill="#ffffff">.1</text>
<rect x="645.78" y="245.00" width="12.86" height="12.90" fill="#f9e0cd"/>
<text x="652.07" y="253.60" font-size="6.6" text-anchor="middle" fill="#262626">.03</text>
<rect x="658.35" y="245.00" width="12.86" height="12.90" fill="#faebdd"/>
<text x="664.63" y="253.60" font-size="6.6" text-anchor="middle" fill="#262626">.0</text>
<rect x="670.91" y="245.00" width="12.86" height="12.90" fill="#f7c6a6"/>
<text x="677.19" y="253.60" font-size="6.6" text-anchor="middle" fill="#262626">.1</text>
<rect x="683.47" y="245.00" width="12.86" height="12.90" fill="#f7c6a6"/>
<text x="689.76" y="253.60" font-size="6.6" text-anchor="middle" fill="#262626">.1</text>
<rect x="696.04" y="245.00" width="12.86" height="12.90" fill="#f6a981"/>
<text x="702.32" y="253.60" font-size="6.6" text-anchor="middle" fill="#262626">.2</text>
<rect x="469.90" y="257.60" width="12.86" height="12.90" fill="#fae8d8"/>
<text x="476.18" y="266.20" font-size="6.6" text-anchor="middle" fill="#262626">.01</text>
<rect x="482.46" y="257.60" width="12.86" height="12.90" fill="#f69c73"/>
<text x="488.74" y="266.20" font-size="6.6" text-anchor="middle" fill="#262626">.2</text>
<rect x="495.03" y="257.60" width="12.86" height="12.90" fill="#f8d1b8"/>
<text x="501.31" y="266.20" font-size="6.6" text-anchor="middle" fill="#262626">.07</text>
<rect x="507.59" y="257.60" width="12.86" height="12.90" fill="#faebdd"/>
<text x="513.87" y="266.20" font-size="6.6" text-anchor="middle" fill="#262626">.0</text>
<rect x="520.15" y="257.60" width="12.86" height="12.90" fill="#f6be9b"/>
<text x="526.43" y="266.20" font-size="6.6" text-anchor="middle" fill="#262626">.1</text>
<rect x="532.72" y="257.60" width="12.86" height="12.90" fill="#f8dcc7"/>
<text x="539.00" y="266.20" font-size="6.6" text-anchor="middle" fill="#262626">.04</text>
<rect x="545.28" y="257.60" width="12.86" height="12.90" fill="#ef5840"/>
<text x="551.56" y="266.20" font-size="6.6" text-anchor="middle" fill="#ffffff">.3</text>
<rect x="557.84" y="257.60" width="12.86" height="12.90" fill="#fae8d8"/>
<text x="564.12" y="266.20" font-size="6.6" text-anchor="middle" fill="#262626">.009</text>
<rect x="570.41" y="257.60" width="12.86" height="12.90" fill="#f9e3d2"/>
<text x="576.69" y="266.20" font-size="6.6" text-anchor="middle" fill="#262626">.02</text>
<rect x="582.97" y="257.60" width="12.86" height="12.90" fill="#f9e3d2"/>
<text x="589.25" y="266.20" font-size="6.6" text-anchor="middle" fill="#262626">.02</text>
<rect x="595.53" y="257.60" width="12.86" height="12.90" fill="#f8d9c3"/>
<text x="601.81" y="266.20" font-size="6.6" text-anchor="middle" fill="#262626">.05</text>
<rect x="608.09" y="257.60" width="12.86" height="12.90" fill="#f8d1b8"/>
<text x="614.38" y="266.20" font-size="6.6" text-anchor="middle" fill="#262626">.07</text>
<rect x="620.66" y="257.60" width="12.86" height="12.90" fill="#f8d4bc"/>
<text x="626.94" y="266.20" font-size="6.6" text-anchor="middle" fill="#262626">.06</text>
<rect x="633.22" y="257.60" width="12.86" height="12.90" fill="#f9e0cd"/>
<text x="639.50" y="266.20" font-size="6.6" text-anchor="middle" fill="#262626">.03</text>
<rect x="645.78" y="257.60" width="12.86" height="12.90" fill="#03051a"/>
<text x="652.07" y="266.20" font-size="6.6" text-anchor="middle" fill="#ffffff">.1</text>
<rect x="658.35" y="257.60" width="12.86" height="12.90" fill="#f8dcc7"/>
<text x="664.63" y="266.20" font-size="6.6" text-anchor="middle" fill="#262626">.04</text>
<rect x="670.91" y="257.60" width="12.86" height="12.90" fill="#e33641"/>
<text x="677.19" y="266.20" font-size="6.6" text-anchor="middle" fill="#ffffff">.4</text>
<rect x="683.47" y="257.60" width="12.86" height="12.90" fill="#faebdd"/>
<text x="689.76" y="266.20" font-size="6.6" text-anchor="middle" fill="#262626">.0</text>
<rect x="696.04" y="257.60" width="12.86" height="12.90" fill="#faebdd"/>
<text x="702.32" y="266.20" font-size="6.6" text-anchor="middle" fill="#262626">.0</text>
<rect x="469.90" y="270.20" width="12.86" height="12.90" fill="#fae8d8"/>
<text x="476.18" y="278.80" font-size="6.6" text-anchor="middle" fill="#262626">.009</text>
<rect x="482.46" y="270.20" width="12.86" height="12.90" fill="#f7cdb1"/>
<text x="488.74" y="278.80" font-size="6.6" text-anchor="middle" fill="#262626">.08</text>
<rect x="495.03" y="270.20" width="12.86" height="12.90" fill="#f9e0cd"/>
<text x="501.31" y="278.80" font-size="6.6" text-anchor="middle" fill="#262626">.03</text>
<rect x="507.59" y="270.20" width="12.86" height="12.90" fill="#f8d1b8"/>
<text x="513.87" y="278.80" font-size="6.6" text-anchor="middle" fill="#262626">.07</text>
<rect x="520.15" y="270.20" width="12.86" height="12.90" fill="#f9e0cd"/>
<text x="526.43" y="278.80" font-size="6.6" text-anchor="middle" fill="#262626">.03</text>
<rect x="532.72" y="270.20" width="12.86" height="12.90" fill="#f7c9aa"/>
<text x="539.00" y="278.80" font-size="6.6" text-anchor="middle" fill="#262626">.09</text>
<rect x="545.28" y="270.20" width="12.86" height="12.90" fill="#f59067"/>
<text x="551.56" y="278.80" font-size="6.6" text-anchor="middle" fill="#ffffff">.2</text>
<rect x="557.84" y="270.20" width="12.86" height="12.90" fill="#faebdd"/>
<text x="564.12" y="278.80" font-size="6.6" text-anchor="middle" fill="#262626">.0</text>
<rect x="570.41" y="270.20" width="12.86" height="12.90" fill="#f7c6a6"/>
<text x="576.69" y="278.80" font-size="6.6" text-anchor="middle" fill="#262626">.1</text>
<rect x="582.97" y="270.20" width="12.86" height="12.90" fill="#f3714d"/>
<text x="589.25" y="278.80" font-size="6.6" text-anchor="middle" fill="#ffffff">.3</text>
<rect x="595.53" y="270.20" width="12.86" height="12.90" fill="#f7c6a6"/>
<text x="601.81" y="278.80" font-size="6.6" text-anchor="middle" fill="#262626">.1</text>
<rect x="608.09" y="270.20" width="12.86" height="12.90" fill="#f7c9aa"/>
<text x="614.38" y="278.80" font-size="6.6" text-anchor="middle" fill="#262626">.09</text>
<rect x="620.66" y="270.20" width="12.86" height="12.90" fill="#f7c6a6"/>
<text x="626.94" y="278.80" font-size="6.6" text-anchor="middle" fill="#262626">.1</text>
<rect x="633.22" y="270.20" width="12.86" height="12.90" fill="#faebdd"/>
<text x="639.50" y="278.80" font-size="6.6" text-anchor="middle" fill="#262626">.0</text>
<rect x="645.78" y="270.20" width="12.86" height="12.90" fill="#f9e0cd"/>
<text x="652.07" y="278.80" font-size="6.6" text-anchor="middle" fill="#262626">.03</text>
<rect x="658.35" y="270.20" width="12.86" height="12.90" fill="#03051a"/>
<text x="664.63" y="278.80" font-size="6.6" text-anchor="middle" fill="#ffffff">.1</text>
<rect x="670.91" y="270.20" width="12.86" height="12.90" fill="#faebdd"/>
<text x="677.19" y="278.80" font-size="6.6" text-anchor="middle" fill="#262626">.0</text>
<rect x="683.47" y="270.20" width="12.86" height="12.90" fill="#faebdd"/>
<text x="689.76" y="278.80" font-size="6.6" text-anchor="middle" fill="#262626">.0</text>
<rect x="696.04" y="270.20" width="12.86" height="12.90" fill="#f3714d"/>
<text x="702.32" y="278.80" font-size="6.6" text-anchor="middle" fill="#ffffff">.3</text>
<rect x="469.90" y="282.80" width="12.86" height="12.90" fill="#fae8d8"/>
<text x="476.18" y="291.40" font-size="6.6" text-anchor="middle" fill="#262626">.01</text>
<rect x="482.46" y="282.80" width="12.86" height="12.90" fill="#f7c9aa"/>
<text x="488.74" y="291.40" font-size="6.6" text-anchor="middle" fill="#262626">.09</text>
<rect x="495.03" y="282.80" width="12.86" height="12.90" fill="#f9e0cd"/>
<text x="501.31" y="291.40" font-size="6.6" text-anchor="middle" fill="#262626">.03</text>
<rect x="507.59" y="282.80" width="12.86" height="12.90" fill="#fae9da"/>
<text x="513.87" y="291.40" font-size="6.6" text-anchor="middle" fill="#262626">.004</text>
<rect x="520.15" y="282.80" width="12.86" height="12.90" fill="#f8d4bc"/>
<text x="526.43" y="291.40" font-size="6.6" text-anchor="middle" fill="#262626">.06</text>
<rect x="532.72" y="282.80" width="12.86" height="12.90" fill="#f9e0cd"/>
<text x="539.00" y="291.40" font-size="6.6" text-anchor="middle" fill="#262626">.03</text>
<rect x="545.28" y="282.80" width="12.86" height="12.90" fill="#f7c6a6"/>
<text x="551.56" y="291.40" font-size="6.6" text-anchor="middle" fill="#262626">.1</text>
<rect x="557.84" y="282.80" width="12.86" height="12.90" fill="#f9e3d2"/>
<text x="564.12" y="291.40" font-size="6.6" text-anchor="middle" fill="#262626">.02</text>
<rect x="570.41" y="282.80" width="12.86" height="12.90" fill="#f9e0cd"/>
<text x="576.69" y="291.40" font-size="6.6" text-anchor="middle" fill="#262626">.03</text>
<rect x="582.97" y="282.80" width="12.86" height="12.90" fill="#f9e3d2"/>
<text x="589.25" y="291.40" font-size="6.6" text-anchor="middle" fill="#262626">.02</text>
<rect x="595.53" y="282.80" width="12.86" height="12.90" fill="#f8d9c3"/>
<text x="601.81" y="291.40" font-size="6.6" text-anchor="middle" fill="#262626">.05</text>
<rect x="608.09" y="282.80" width="12.86" height="12.90" fill="#fae8d8"/>
<text x="614.38" y="291.40" font-size="6.6" text-anchor="middle" fill="#262626">.01</text>
<rect x="620.66" y="282.80" width="12.86" height="12.90" fill="#f8d9c3"/>
<text x="626.94" y="291.40" font-size="6.6" text-anchor="middle" fill="#262626">.05</text>
<rect x="633.22" y="282.80" width="12.86" height="12.90" fill="#f8d1b8"/>
<text x="639.50" y="291.40" font-size="6.6" text-anchor="middle" fill="#262626">.07</text>
<rect x="645.78" y="282.80" width="12.86" height="12.90" fill="#f47a54"/>
<text x="652.07" y="291.40" font-size="6.6" text-anchor="middle" fill="#ffffff">.3</text>
<rect x="658.35" y="282.80" width="12.86" height="12.90" fill="#faebdd"/>
<text x="664.63" y="291.40" font-size="6.6" text-anchor="middle" fill="#262626">.0</text>
<rect x="670.91" y="282.80" width="12.86" height="12.90" fill="#03051a"/>
<text x="677.19" y="291.40" font-size="6.6" text-anchor="middle" fill="#ffffff">.1</text>
<rect x="683.47" y="282.80" width="12.86" height="12.90" fill="#f69c73"/>
<text x="689.76" y="291.40" font-size="6.6" text-anchor="middle" fill="#262626">.2</text>
<rect x="696.04" y="282.80" width="12.86" height="12.90" fill="#f69c73"/>
<text x="702.32" y="291.40" font-size="6.6" text-anchor="middle" fill="#262626">.2</text>
<rect x="469.90" y="295.40" width="12.86" height="12.90" fill="#fae8d8"/>
<text x="476.18" y="304.00" font-size="6.6" text-anchor="middle" fill="#262626">.009</text>
<rect x="482.46" y="295.40" width="12.86" height="12.90" fill="#faebdd"/>
<text x="488.74" y="304.00" font-size="6.6" text-anchor="middle" fill="#262626">.003</text>
<rect x="495.03" y="295.40" width="12.86" height="12.90" fill="#faebdd"/>
<text x="501.31" y="304.00" font-size="6.6" text-anchor="middle" fill="#262626">.0</text>
<rect x="507.59" y="295.40" width="12.86" height="12.90" fill="#fae9da"/>
<text x="513.87" y="304.00" font-size="6.6" text-anchor="middle" fill="#262626">.004</text>
<rect x="520.15" y="295.40" width="12.86" height="12.90" fill="#fae9da"/>
<text x="526.43" y="304.00" font-size="6.6" text-anchor="middle" fill="#262626">.005</text>
<rect x="532.72" y="295.40" width="12.86" height="12.90" fill="#fae9da"/>
<text x="539.00" y="304.00" font-size="6.6" text-anchor="middle" fill="#262626">.005</text>
<rect x="545.28" y="295.40" width="12.86" height="12.90" fill="#fae8d8"/>
<text x="551.56" y="304.00" font-size="6.6" text-anchor="middle" fill="#262626">.009</text>
<rect x="557.84" y="295.40" width="12.86" height="12.90" fill="#f9e0cd"/>
<text x="564.12" y="304.00" font-size="6.6" text-anchor="middle" fill="#262626">.03</text>
<rect x="570.41" y="295.40" width="12.86" height="12.90" fill="#f7c6a6"/>
<text x="576.69" y="304.00" font-size="6.6" text-anchor="middle" fill="#262626">.1</text>
<rect x="582.97" y="295.40" width="12.86" height="12.90" fill="#f8d9c3"/>
<text x="589.25" y="304.00" font-size="6.6" text-anchor="middle" fill="#262626">.05</text>
<rect x="595.53" y="295.40" width="12.86" height="12.90" fill="#faebdd"/>
<text x="601.81" y="304.00" font-size="6.6" text-anchor="middle" fill="#262626">.0</text>
<rect x="608.09" y="295.40" width="12.86" height="12.90" fill="#f8dcc7"/>
<text x="614.38" y="304.00" font-size="6.6" text-anchor="middle" fill="#262626">.04</text>
<rect x="620.66" y="295.40" width="12.86" height="12.90" fill="#fae8d8"/>
<text x="626.94" y="304.00" font-size="6.6" text-anchor="middle" fill="#262626">.01</text>
<rect x="633.22" y="295.40" width="12.86" height="12.90" fill="#f9e0cd"/>
<text x="639.50" y="304.00" font-size="6.6" text-anchor="middle" fill="#262626">.03</text>
<rect x="645.78" y="295.40" width="12.86" height="12.90" fill="#faebdd"/>
<text x="652.07" y="304.00" font-size="6.6" text-anchor="middle" fill="#262626">.0</text>
<rect x="658.35" y="295.40" width="12.86" height="12.90" fill="#faebdd"/>
<text x="664.63" y="304.00" font-size="6.6" text-anchor="middle" fill="#262626">.0</text>
<rect x="670.91" y="295.40" width="12.86" height="12.90" fill="#f7c6a6"/>
<text x="677.19" y="304.00" font-size="6.6" text-anchor="middle" fill="#262626">.1</text>
<rect x="683.47" y="295.40" width="12.86" height="12.90" fill="#03051a"/>
<text x="689.76" y="304.00" font-size="6.6" text-anchor="middle" fill="#ffffff">.1</text>
<rect x="696.04" y="295.40" width="12.86" height="12.90" fill="#faebdd"/>
<text x="702.32" y="304.00" font-size="6.6" text-anchor="middle" fill="#262626">.0</text>
<rect x="469.90" y="308.00" width="12.86" height="12.90" fill="#faebdd"/>
<text x="476.18" y="316.60" font-size="6.6" text-anchor="middle" fill="#262626">.003</text>
<rect x="482.46" y="308.00" width="12.86" height="12.90" fill="#faebdd"/>
<text x="488.74" y="316.60" font-size="6.6" text-anchor="middle" fill="#262626">.0</text>
<rect x="495.03" y="308.00" width="12.86" height="12.90" fill="#faebdd"/>
<text x="501.31" y="316.60" font-size="6.6" text-anchor="middle" fill="#262626">.0</text>
<rect x="507.59" y="308.00" width="12.86" height="12.90" fill="#f9e0cd"/>
<text x="513.87" y="316.60" font-size="6.6" text-anchor="middle" fill="#262626">.03</text>
<rect x="520.15" y="308.00" width="12.86" height="12.90" fill="#faebdd"/>
<text x="526.43" y="316.60" font-size="6.6" text-anchor="middle" fill="#262626">.0</text>
<rect x="532.72" y="308.00" width="12.86" height="12.90" fill="#faebdd"/>
<text x="539.00" y="316.60" font-size="6.6" text-anchor="middle" fill="#262626">.0</text>
<rect x="545.28" y="308.00" width="12.86" height="12.90" fill="#f9e3d2"/>
<text x="551.56" y="316.60" font-size="6.6" text-anchor="middle" fill="#262626">.02</text>
<rect x="557.84" y="308.00" width="12.86" height="12.90" fill="#f9e3d2"/>
<text x="564.12" y="316.60" font-size="6.6" text-anchor="middle" fill="#262626">.02</text>
<rect x="570.41" y="308.00" width="12.86" height="12.90" fill="#f8d9c3"/>
<text x="576.69" y="316.60" font-size="6.6" text-anchor="middle" fill="#262626">.05</text>
<rect x="582.97" y="308.00" width="12.86" height="12.90" fill="#f7c6a6"/>
<text x="589.25" y="316.60" font-size="6.6" text-anchor="middle" fill="#262626">.1</text>
<rect x="595.53" y="308.00" width="12.86" height="12.90" fill="#faebdd"/>
<text x="601.81" y="316.60" font-size="6.6" text-anchor="middle" fill="#262626">.0</text>
<rect x="608.09" y="308.00" width="12.86" height="12.90" fill="#f8dcc7"/>
<text x="614.38" y="316.60" font-size="6.6" text-anchor="middle" fill="#262626">.04</text>
<rect x="620.66" y="308.00" width="12.86" height="12.90" fill="#f7cdb1"/>
<text x="626.94" y="316.60" font-size="6.6" text-anchor="middle" fill="#262626">.08</text>
<rect x="633.22" y="308.00" width="12.86" height="12.90" fill="#f9e0cd"/>
<text x="639.50" y="316.60" font-size="6.6" text-anchor="middle" fill="#262626">.03</text>
<rect x="645.78" y="308.00" width="12.86" height="12.90" fill="#faebdd"/>
<text x="652.07" y="316.60" font-size="6.6" text-anchor="middle" fill="#262626">.0</text>
<rect x="658.35" y="308.00" width="12.86" height="12.90" fill="#f8d1b8"/>
<text x="664.63" y="316.60" font-size="6.6" text-anchor="middle" fill="#262626">.07</text>
<rect x="670.91" y="308.00" width="12.86" height="12.90" fill="#f8d4bc"/>
<text x="677.19" y="316.60" font-size="6.6" text-anchor="middle" fill="#262626">.06</text>
<rect x="683.47" y="308.00" width="12.86" height="12.90" fill="#faebdd"/>
<text x="689.76" y="316.60" font-size="6.6" text-anchor="middle" fill="#262626">.0</text>
<rect x="696.04" y="308.00" width="12.86" height="12.90" fill="#03051a"/>
<text x="702.32" y="316.60" font-size="6.6" text-anchor="middle" fill="#ffffff">.1</text>
<line x1="466.9" y1="87.50" x2="469.9" y2="87.50" stroke="#666666" stroke-width="0.8"/>
<text x="466.10" y="91.03" font-size="10.4" text-anchor="end" fill="#000">tense</text>
<line x1="476.18" y1="320.6" x2="476.18" y2="322.8" stroke="#999" stroke-width="0.8"/>
<text x="478.31" y="324.00" font-size="10.4" text-anchor="end" fill="#000" transform="rotate(-90 478.31 324.00)">tense</text>
<line x1="466.9" y1="100.10" x2="469.9" y2="100.10" stroke="#666666" stroke-width="0.8"/>
<text x="466.10" y="103.63" font-size="10.4" text-anchor="end" fill="#000">cheerful</text>
<line x1="488.74" y1="320.6" x2="488.74" y2="322.8" stroke="#999" stroke-width="0.8"/>
<text x="490.88" y="324.00" font-size="10.4" text-anchor="end" fill="#000" transform="rotate(-90 490.88 324.00)">cheerful</text>
<line x1="466.9" y1="112.70" x2="469.9" y2="112.70" stroke="#666666" stroke-width="0.8"/>
<text x="466.10" y="116.23" font-size="10.4" text-anchor="end" fill="#000">speedy</text>
<line x1="501.31" y1="320.6" x2="501.31" y2="322.8" stroke="#999" stroke-width="0.8"/>
<text x="503.44" y="324.00" font-size="10.4" text-anchor="end" fill="#000" transform="rotate(-90 503.44 324.00)">speedy</text>
<line x1="466.9" y1="125.30" x2="469.9" y2="125.30" stroke="#666666" stroke-width="0.8"/>
<text x="466.10" y="128.83" font-size="10.4" text-anchor="end" fill="#000">serious</text>
<line x1="513.87" y1="320.6" x2="513.87" y2="322.8" stroke="#999" stroke-width="0.8"/>
<text x="516.00" y="324.00" font-size="10.4" text-anchor="end" fill="#000" transform="rotate(-90 516.00 324.00)">serious</text>
<line x1="466.9" y1="137.90" x2="469.9" y2="137.90" stroke="#666666" stroke-width="0.8"/>
<text x="466.10" y="141.43" font-size="10.4" text-anchor="end" fill="#000">rhythmic</text>
<line x1="526.43" y1="320.6" x2="526.43" y2="322.8" stroke="#999" stroke-width="0.8"/>
<text x="528.57" y="324.00" font-size="10.4" text-anchor="end" fill="#000" transform="rotate(-90 528.57 324.00)">rhythmic</text>
<line x1="466.9" y1="150.50" x2="469.9" y2="150.50" stroke="#666666" stroke-width="0.8"/>
<text x="466.10" y="154.03" font-size="10.4" text-anchor="end" fill="#000">fluttered</text>
<line x1="539.00" y1="320.6" x2="539.00" y2="322.8" stroke="#999" stroke-width="0.8"/>
<text x="541.13" y="324.00" font-size="10.4" text-anchor="end" fill="#000" transform="rotate(-90 541.13 324.00)">fluttered</text>
<line x1="466.9" y1="163.10" x2="469.9" y2="163.10" stroke="#666666" stroke-width="0.8"/>
<text x="466.10" y="166.63" font-size="10.4" text-anchor="end" fill="#000">peaceful</text>
<line x1="551.56" y1="320.6" x2="551.56" y2="322.8" stroke="#999" stroke-width="0.8"/>
<text x="553.69" y="324.00" font-size="10.4" text-anchor="end" fill="#000" transform="rotate(-90 553.69 324.00)">peaceful</text>
<line x1="466.9" y1="175.70" x2="469.9" y2="175.70" stroke="#666666" stroke-width="0.8"/>
<text x="466.10" y="179.23" font-size="10.4" text-anchor="end" fill="#000">creepy</text>
<line x1="564.12" y1="320.6" x2="564.12" y2="322.8" stroke="#999" stroke-width="0.8"/>
<text x="566.25" y="324.00" font-size="10.4" text-anchor="end" fill="#000" transform="rotate(-90 566.25 324.00)">creepy</text>
<line x1="466.9" y1="188.30" x2="469.9" y2="188.30" stroke="#666666" stroke-width="0.8"/>
<text x="466.10" y="191.83" font-size="10.4" text-anchor="end" fill="#000">depressed</text>
<line x1="576.69" y1="320.6" x2="576.69" y2="322.8" stroke="#999" stroke-width="0.8"/>
<text x="578.82" y="324.00" font-size="10.4" text-anchor="end" fill="#000" transform="rotate(-90 578.82 324.00)">depressed</text>
<line x1="466.9" y1="200.90" x2="469.9" y2="200.90" stroke="#666666" stroke-width="0.8"/>
<text x="466.10" y="204.43" font-size="10.4" text-anchor="end" fill="#000">calm</text>
<line x1="589.25" y1="320.6" x2="589.25" y2="322.8" stroke="#999" stroke-width="0.8"/>
<text x="591.38" y="324.00" font-size="10.4" text-anchor="end" fill="#000" transform="rotate(-90 591.38 324.00)">calm</text>
<line x1="466.9" y1="213.50" x2="469.9" y2="213.50" stroke="#666666" stroke-width="0.8"/>
<text x="466.10" y="217.03" font-size="10.4" text-anchor="end" fill="#000">grand</text>
<line x1="601.81" y1="320.6" x2="601.81" y2="322.8" stroke="#999" stroke-width="0.8"/>
<text x="603.94" y="324.00" font-size="10.4" text-anchor="end" fill="#000" transform="rotate(-90 603.94 324.00)">grand</text>
<line x1="466.9" y1="226.10" x2="469.9" y2="226.10" stroke="#666666" stroke-width="0.8"/>
<text x="466.10" y="229.63" font-size="10.4" text-anchor="end" fill="#000">cold</text>
<line x1="614.38" y1="320.6" x2="614.38" y2="322.8" stroke="#999" stroke-width="0.8"/>
<text x="616.51" y="324.00" font-size="10.4" text-anchor="end" fill="#000" transform="rotate(-90 616.51 324.00)">cold</text>
<line x1="466.9" y1="238.70" x2="469.9" y2="238.70" stroke="#666666" stroke-width="0.8"/>
<text x="466.10" y="242.23" font-size="10.4" text-anchor="end" fill="#000">dreamy</text>
<line x1="626.94" y1="320.6" x2="626.94" y2="322.8" stroke="#999" stroke-width="0.8"/>
<text x="629.07" y="324.00" font-size="10.4" text-anchor="end" fill="#000" transform="rotate(-90 629.07 324.00)">dreamy</text>
<line x1="466.9" y1="251.30" x2="469.9" y2="251.30" stroke="#666666" stroke-width="0.8"/>
<text x="466.10" y="254.83" font-size="10.4" text-anchor="end" fill="#000">bizarre</text>
<line x1="639.50" y1="320.6" x2="639.50" y2="322.8" stroke="#999" stroke-width="0.8"/>
<text x="641.63" y="324.00" font-size="10.4" text-anchor="end" fill="#000" transform="rotate(-90 641.63 324.00)">bizarre</text>
<line x1="466.9" y1="263.90" x2="469.9" y2="263.90" stroke="#666666" stroke-width="0.8"/>
<text x="466.10" y="267.43" font-size="10.4" text-anchor="end" fill="#000">cute</text>
<line x1="652.07" y1="320.6" x2="652.07" y2="322.8" stroke="#999" stroke-width="0.8"/>
<text x="654.20" y="324.00" font-size="10.4" text-anchor="end" fill="#000" transform="rotate(-90 654.20 324.00)">cute</text>
<line x1="466.9" y1="276.50" x2="469.9" y2="276.50" stroke="#666666" stroke-width="0.8"/>
<text x="466.10" y="280.03" font-size="10.4" text-anchor="end" fill="#000">touching</text>
<line x1="664.63" y1="320.6" x2="664.63" y2="322.8" stroke="#999" stroke-width="0.8"/>
<text x="666.76" y="324.00" font-size="10.4" text-anchor="end" fill="#000" transform="rotate(-90 666.76 324.00)">touching</text>
<line x1="466.9" y1="289.10" x2="469.9" y2="289.10" stroke="#666666" stroke-width="0.8"/>
<text x="466.10" y="292.63" font-size="10.4" text-anchor="end" fill="#000">comic</text>
<line x1="677.19" y1="320.6" x2="677.19" y2="322.8" stroke="#999" stroke-width="0.8"/>
<text x="679.32" y="324.00" font-size="10.4" text-anchor="end" fill="#000" transform="rotate(-90 679.32 324.00)">comic</text>
<line x1="466.9" y1="301.70" x2="469.9" y2="301.70" stroke="#666666" stroke-width="0.8"/>
<text x="466.10" y="305.23" font-size="10.4" text-anchor="end" fill="#000">frustrating</text>
<line x1="689.76" y1="320.6" x2="689.76" y2="322.8" stroke="#999" stroke-width="0.8"/>
<text x="691.89" y="324.00" font-size="10.4" text-anchor="end" fill="#000" transform="rotate(-90 691.89 324.00)">frustrating</text>
<line x1="466.9" y1="314.30" x2="469.9" y2="314.30" stroke="#666666" stroke-width="0.8"/>
<text x="466.10" y="317.83" font-size="10.4" text-anchor="end" fill="#000">boring</text>
<line x1="702.32" y1="320.6" x2="702.32" y2="322.8" stroke="#999" stroke-width="0.8"/>
<text x="704.45" y="324.00" font-size="10.4" text-anchor="end" fill="#000" transform="rotate(-90 704.45 324.00)">boring</text>
<text x="589.25" y="78.60" font-size="10.7" text-anchor="middle" fill="#000">(c) Co-occurrence of emotion tags</text>
<defs><linearGradient id="cb" x1="0" y1="1" x2="0" y2="0">
<stop offset="0.000" stop-color="#faebdd"/>
<stop offset="0.050" stop-color="#f8d9c3"/>
<stop offset="0.100" stop-color="#f7c6a6"/>
<stop offset="0.150" stop-color="#f6b18b"/>
<stop offset="0.200" stop-color="#f69c73"/>
<stop offset="0.250" stop-color="#f4865e"/>
<stop offset="0.300" stop-color="#f3714d"/>
<stop offset="0.350" stop-color="#ef5840"/>
<stop offset="0.400" stop-color="#e83f3f"/>
<stop offset="0.450" stop-color="#db2946"/>
<stop offset="0.500" stop-color="#ca1a50"/>
<stop offset="0.550" stop-color="#b71657"/>
<stop offset="0.600" stop-color="#a11a5b"/>
<stop offset="0.650" stop-color="#8b1d5b"/>
<stop offset="0.700" stop-color="#751f58"/>
<stop offset="0.750" stop-color="#601f52"/>
<stop offset="0.800" stop-color="#4c1d4b"/>
<stop offset="0.850" stop-color="#381a40"/>
<stop offset="0.900" stop-color="#251433"/>
<stop offset="0.950" stop-color="#130d25"/>
<stop offset="1.000" stop-color="#03051a"/>
</linearGradient></defs>
<rect x="723.8" y="81.2" width="11.00" height="239.40" fill="url(#cb)"/>
<line x1="734.8" y1="320.60" x2="737.8" y2="320.60" stroke="#666666" stroke-width="0.8"/>
<text x="739.30" y="325.35" font-size="10.4" text-anchor="start" fill="#000">0.0</text>
<line x1="734.8" y1="272.72" x2="737.8" y2="272.72" stroke="#666666" stroke-width="0.8"/>
<text x="739.30" y="277.47" font-size="10.4" text-anchor="start" fill="#000">0.2</text>
<line x1="734.8" y1="224.84" x2="737.8" y2="224.84" stroke="#666666" stroke-width="0.8"/>
<text x="739.30" y="229.59" font-size="10.4" text-anchor="start" fill="#000">0.4</text>
<line x1="734.8" y1="176.96" x2="737.8" y2="176.96" stroke="#666666" stroke-width="0.8"/>
<text x="739.30" y="181.71" font-size="10.4" text-anchor="start" fill="#000">0.6</text>
<line x1="734.8" y1="129.08" x2="737.8" y2="129.08" stroke="#666666" stroke-width="0.8"/>
<text x="739.30" y="133.82" font-size="10.4" text-anchor="start" fill="#000">0.8</text>
<line x1="734.8" y1="81.20" x2="737.8" y2="81.20" stroke="#666666" stroke-width="0.8"/>
<text x="739.30" y="85.94" font-size="10.4" text-anchor="start" fill="#000">1.0</text>
</svg>
<div class="l" id="L0" style="left:77.00px;top:379.93px;font-size:13.7px;word-spacing:1.005px;"><b>Figure 2</b>: <span style="margin-left:1.00px"></span>Emotion annotation and verification results. <span style="margin-left:1.61px"></span>(a) Frequency distribution of emotion tags where n is the number</div>
<div class="l" id="L1" style="left:77.00px;top:396.78px;font-size:13.7px;word-spacing:1.976px;">of agreements of verifiers, <span style="margin-left:0.49px"></span>(b) Frequency distribution of top tags, <span style="margin-left:0.49px"></span>(c) Co-occurrence of emotion tags. <span style="margin-left:3.16px"></span>Each column is</div>
<div class="l" id="L2" style="left:77.00px;top:413.63px;font-size:13.7px;">normalized by the frequency of each tag.</div>
<div class="l" id="L3" style="left:77.00px;top:452.33px;font-size:13.7px;word-spacing:0.188px;">After the tag vocabulary was refined, <span style="margin-left:0.05px"></span>we conducted the la-</div>
<div class="l" id="L4" style="left:77.00px;top:469.18px;font-size:13.7px;word-spacing:2.437px;">beling. <span style="margin-left:3.90px"></span>While annotating the dataset, <span style="margin-left:0.61px"></span>each of the anno-</div>
<div class="l" id="L5" style="left:77.00px;top:486.03px;font-size:13.7px;word-spacing:1.732px;">tators selected one dominant emotion tag for each music</div>
<div class="l" id="L6" style="left:77.00px;top:502.88px;font-size:13.7px;word-spacing:1.158px;">which we call &#8220;top tag&#8221; in this paper. <span style="margin-left:1.85px"></span>Among the top tag</div>
<div class="l" id="L7" style="left:77.00px;top:519.73px;font-size:13.7px;word-spacing:1.017px;">annotated by the two annotators, <span style="margin-left:0.25px"></span>the final top tag was se-</div>
<div class="l" id="L8" style="left:77.00px;top:536.58px;font-size:13.7px;">lected as having a higher agreement after verification.</div>
<div class="l" id="L9" style="left:77.00px;top:578.43px;font-size:13.7px;font-weight:bold;">3.4<span style="margin-left:8.6px"></span>Emotion Verification</div>
<div class="l" id="L10" style="left:77.00px;top:606.73px;font-size:13.7px;word-spacing:0.184px;">After the annotation step, <span style="margin-left:0.05px"></span>each music file was validated by</div>
<div class="l" id="L11" style="left:77.00px;top:623.58px;font-size:13.7px;word-spacing:0.893px;">three verifiers; <span style="margin-left:0.45px"></span>in total, <span style="margin-left:0.22px"></span>ten people participated as verifier.</div>
<div class="l" id="L12" style="left:77.00px;top:640.43px;font-size:13.7px;word-spacing:0.347px;">During verification, <span style="margin-left:0.09px"></span>verifiers were asked to mark the emo-</div>
<div class="l" id="L13" style="left:77.00px;top:657.28px;font-size:13.7px;word-spacing:0.716px;">tion tag if they disagree with the annotation. <span style="margin-left:1.15px"></span>We provided</div>
<div class="l" id="L14" style="left:77.00px;top:674.13px;font-size:13.7px;word-spacing:1.201px;">verifiers with the annotator&#8217;s description of each emotion</div>
<div class="l" id="L15" style="left:77.00px;top:690.98px;font-size:13.7px;word-spacing:0.073px;">tag to reduce the ambiguity of each emotion tag. <span style="margin-left:0.12px"></span>After ver-</div>
<div class="l" id="L16" style="left:77.00px;top:707.83px;font-size:13.7px;word-spacing:1.358px;">ification, <span style="margin-left:0.34px"></span>tags with low agreement (lower than two) were</div>
<div class="l" id="L17" style="left:77.00px;top:724.68px;font-size:13.7px;word-spacing:0.184px;">excluded from the annotation of each music. <span style="margin-left:0.29px"></span>When the top</div>
<div class="l" id="L18" style="left:77.00px;top:741.53px;font-size:13.7px;word-spacing:0.101px;">tag was excluded after verification (26 songs), <span style="margin-left:0.03px"></span>the tag with</div>
<div class="l" id="L19" style="left:77.00px;top:758.38px;font-size:13.7px;">the highest agreement was chosen as the new top tag.</div>
<div class="l" id="L20" style="left:93.60px;top:777.13px;font-size:13.7px;word-spacing:3.894px;">Figure 2(a) shows the overall emotion tag distribu-</div>
<div class="l" id="L21" style="left:77.00px;top:793.98px;font-size:13.7px;word-spacing:3.123px;">tion of the YM2413-MDB after verification. <span style="margin-left:5.00px"></span>Also, <span style="margin-left:0.78px"></span>the</div>
<div class="l" id="L22" style="left:77.00px;top:810.83px;font-size:13.7px;word-spacing:2.438px;">agreement portion of verification explains the subjectiv-</div>
<div class="l" id="L23" style="left:77.00px;top:827.68px;font-size:13.7px;word-spacing:2.425px;">ity of each tag. <span style="margin-left:3.88px"></span>In particular, <span style="margin-left:0.61px"></span>&#8216;serious&#8217;, <span style="margin-left:0.61px"></span>&#8216;fluttered&#8217;, <span style="margin-left:0.61px"></span>&#8216;de-</div>
<div class="l" id="L24" style="left:77.00px;top:844.53px;font-size:13.7px;word-spacing:2.129px;">pressed&#8217;, <span style="margin-left:0.53px"></span>and &#8216;cold&#8217; tags have less agreement than other</div>
<div class="l" id="L25" style="left:77.00px;top:861.38px;font-size:13.7px;word-spacing:3.643px;">tags. <span style="margin-left:5.83px"></span>The frequency distribution of top tags is shown</div>
<div class="l" id="L26" style="left:77.00px;top:878.23px;font-size:13.7px;word-spacing:2.895px;">in Figure 2(b), <span style="margin-left:0.72px"></span>in which the imbalance is more notice-</div>
<div class="l" id="L27" style="left:77.00px;top:895.08px;font-size:13.7px;word-spacing:4.811px;">able than the frequency distribution of each tag. <span style="margin-left:7.70px"></span>In</div>
<div class="l" id="L28" style="left:77.00px;top:911.93px;font-size:13.7px;word-spacing:3.698px;">Figure 2(c), <span style="margin-left:0.92px"></span>we investigated the independence of each</div>
<div class="l" id="L29" style="left:77.00px;top:928.78px;font-size:13.7px;word-spacing:4.592px;">tag by calculating the co-occurrence of emotion tags.</div>
<div class="l" id="L30" style="left:77.00px;top:945.63px;font-size:13.7px;word-spacing:3.574px;">The words that often appear together(&gt;0.8) are as fol-</div>
<div class="l" id="L31" style="left:77.00px;top:962.48px;font-size:13.7px;word-spacing:1.576px;">lows: <span style="margin-left:1.58px"></span>&#8216;speedy&#8217;-&#8216;tense&#8217;, <span style="margin-left:0.39px"></span>&#8216;creepy&#8217;-&#8216;tense&#8217;, <span style="margin-left:0.39px"></span>&#8216;bizarre&#8217;-&#8216;tense&#8217;,</div>
<div class="l" id="L32" style="left:77.00px;top:979.33px;font-size:13.7px;">&#8216;cute&#8217;-&#8216;cheerful&#8217;, &#8216;comic&#8217;-&#8216;cheerful&#8217;, and &#8216;boring&#8217;-&#8216;calm&#8217;.</div>
<div class="l" id="L33" style="left:93.60px;top:997.93px;font-size:13.7px;word-spacing:2.271px;">Annotation and verification for the Korean tags were</div>
<div class="l" id="L34" style="left:77.00px;top:1014.78px;font-size:13.7px;word-spacing:1.646px;">operated since all participants were native Korean. <span style="margin-left:2.63px"></span>They</div>
<div class="l" id="L35" style="left:77.00px;top:1031.63px;font-size:13.7px;word-spacing:1.171px;">are aged from twenty-four to thirty-one, <span style="margin-left:0.29px"></span>with at least one</div>
<div class="l" id="L36" style="left:77.00px;top:1048.48px;font-size:13.7px;">retro video game-playing experience.</div>
<div class="l" id="L37" style="left:430.80px;top:452.13px;font-size:13.7px;font-weight:bold;">3.5<span style="margin-left:8.6px"></span>Data Representation</div>
<div class="l" id="L38" style="left:430.80px;top:487.13px;font-size:13.7px;word-spacing:-0.180px;">For the baseline symbolic-domain classification and gener-</div>
<div class="l" id="L39" style="left:430.80px;top:503.98px;font-size:13.7px;word-spacing:-0.083px;">ation, <span style="margin-left:0.02px"></span>we used the event-based representation called Multi-</div>
<div class="l" id="L40" style="left:430.80px;top:520.83px;font-size:13.7px;word-spacing:2.667px;">Track Music Machine (MMM) [35]. <span style="margin-left:4.27px"></span>The MMM repre-</div>
<div class="l" id="L41" style="left:430.80px;top:537.68px;font-size:13.7px;word-spacing:3.531px;">sentation can handle arbitrary instrument combinations.</div>
<div class="l" id="L42" style="left:430.80px;top:554.53px;font-size:13.7px;word-spacing:2.042px;">As discussed in Section 3.1, <span style="margin-left:0.51px"></span>our dataset contains unison</div>
<div class="l" id="L43" style="left:430.80px;top:571.38px;font-size:13.7px;word-spacing:1.846px;">patterns; <span style="margin-left:0.92px"></span>the same instrument appears in multiple tracks.</div>
<div class="l" id="L44" style="left:430.80px;top:588.23px;font-size:13.7px;word-spacing:1.209px;">To apply representations suggested for multi-instrumental</div>
<div class="l" id="L45" style="left:430.80px;top:605.08px;font-size:13.7px;word-spacing:1.732px;">music that assume each instrument appears at most once</div>
<div class="l" id="L46" style="left:430.80px;top:621.93px;font-size:13.7px;word-spacing:1.571px;">[16,&#8201;27,&#8201;32], <span style="margin-left:0.39px"></span>we should discard instrument tracks that ap-</div>
<div class="l" id="L47" style="left:430.80px;top:638.78px;font-size:13.7px;word-spacing:1.855px;">pear multiple times in a song. <span style="margin-left:2.97px"></span>However, <span style="margin-left:0.46px"></span>we did not ap-</div>
<div class="l" id="L48" style="left:430.80px;top:655.63px;font-size:13.7px;word-spacing:1.281px;">ply the strategy due to the small dataset size. <span style="margin-left:2.05px"></span>In our pre-</div>
<div class="l" id="L49" style="left:430.80px;top:672.48px;font-size:13.7px;word-spacing:2.223px;">liminary study, <span style="margin-left:0.56px"></span>experiments with multi-instrumental rep-</div>
<div class="l" id="L50" style="left:430.80px;top:689.33px;font-size:13.7px;word-spacing:1.826px;">resentation suggested by [27] only generate a drum with</div>
<div class="l" id="L51" style="left:430.80px;top:706.18px;font-size:13.7px;word-spacing:1.409px;">a large number of notes. <span style="margin-left:2.25px"></span>We speculate that it was due to</div>
<div class="l" id="L52" style="left:430.80px;top:723.03px;font-size:13.7px;word-spacing:1.904px;">the frequency imbalance of tokens; <span style="margin-left:0.95px"></span>since the representa-</div>
<div class="l" id="L53" style="left:430.80px;top:739.88px;font-size:13.7px;word-spacing:1.158px;">tion suggested by [27] combines musical instruments and</div>
<div class="l" id="L54" style="left:430.80px;top:756.73px;font-size:13.7px;word-spacing:0.525px;">pitch tokens, <span style="margin-left:0.13px"></span>the number of tokens increases in proportion</div>
<div class="l" id="L55" style="left:430.80px;top:773.58px;font-size:13.7px;word-spacing:1.383px;">to the number of instruments, <span style="margin-left:0.35px"></span>making the model difficult</div>
<div class="l" id="L56" style="left:430.80px;top:790.43px;font-size:13.7px;word-spacing:0.284px;">to learn pitch information. <span style="margin-left:0.45px"></span>Therefore, <span style="margin-left:0.07px"></span>we did not use those</div>
<div class="l" id="L57" style="left:430.80px;top:807.28px;font-size:13.7px;">non-MMM style representations.</div>
<div class="l" id="L58" style="left:447.40px;top:828.83px;font-size:13.7px;word-spacing:2.482px;">To re-implement MMM, <span style="margin-left:0.62px"></span>we calculated the note den-</div>
<div class="l" id="L59" style="left:430.80px;top:845.68px;font-size:13.7px;word-spacing:2.085px;">sity for each instrument by dividing the total number of</div>
<div class="l" id="L60" style="left:430.80px;top:862.53px;font-size:13.7px;word-spacing:1.515px;">note counts by the active bar number, <span style="margin-left:0.38px"></span>which is the num-</div>
<div class="l" id="L61" style="left:430.80px;top:879.38px;font-size:13.7px;word-spacing:1.000px;">ber of bars in which at least one note is played. <span style="margin-left:1.60px"></span>Also, <span style="margin-left:0.25px"></span>we</div>
<div class="l" id="L62" style="left:430.80px;top:896.23px;font-size:13.7px;word-spacing:1.306px;">quantized the music samples with 48 grids per bar. <span style="margin-left:2.09px"></span>After</div>
<div class="l" id="L63" style="left:430.80px;top:913.08px;font-size:13.7px;word-spacing:1.849px;">removing the bar-fill-related vocabulary of MMM which</div>
<div class="l" id="L64" style="left:430.80px;top:929.93px;font-size:13.7px;word-spacing:1.471px;">is not necessary for our tasks, <span style="margin-left:0.37px"></span>we used a total of 447 to-</div>
<div class="l" id="L65" style="left:430.80px;top:946.78px;font-size:13.7px;word-spacing:1.345px;">kens: <span style="margin-left:1.35px"></span>five tokens for the piece, <span style="margin-left:0.34px"></span>track, <span style="margin-left:0.34px"></span>and bar; <span style="margin-left:0.67px"></span>48 tokens</div>
<div class="l" id="L66" style="left:430.80px;top:963.63px;font-size:13.7px;word-spacing:0.250px;">for time delta tokens; <span style="margin-left:0.12px"></span>128 tokens for each instrument, <span style="margin-left:0.06px"></span>note</div>
<div class="l" id="L67" style="left:430.80px;top:980.48px;font-size:13.7px;word-spacing:1.335px;">on, <span style="margin-left:0.33px"></span>and note off. <span style="margin-left:2.14px"></span>Since the MMM representation can ex-</div>
<div class="l" id="L68" style="left:430.80px;top:997.33px;font-size:13.7px;word-spacing:-0.469px;">press a fixed number of bars, <span style="margin-left:0.09px"></span>we used four bars with a max-</div>
<div class="l" id="L69" style="left:430.80px;top:1014.18px;font-size:13.7px;word-spacing:1.381px;">imum of six instruments, <span style="margin-left:0.35px"></span>which the transformer attention</div>
<div class="l" id="L70" style="left:430.80px;top:1031.03px;font-size:13.7px;word-spacing:0.242px;">window size of 1024 can handle. <span style="margin-left:0.39px"></span>Fixing the length of gen-</div>
<div class="l" id="L71" style="left:430.80px;top:1047.88px;font-size:13.7px;word-spacing:0.655px;">erated music is suitable for game music because the game</div>
</body></html>
